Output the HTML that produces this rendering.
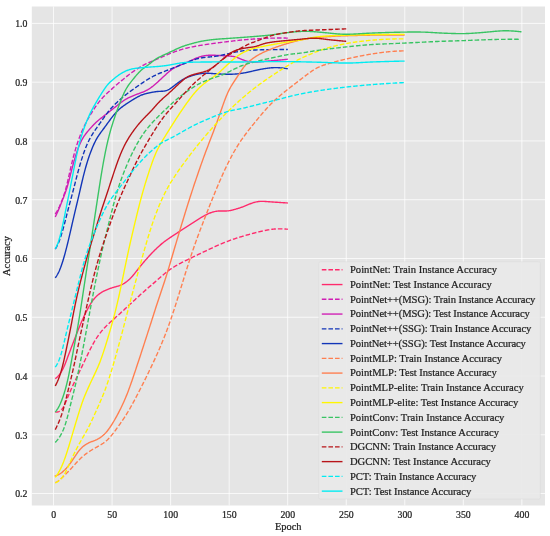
<!DOCTYPE html>
<html><head><meta charset="utf-8"><title>Accuracy vs Epoch</title>
<style>
html,body{margin:0;padding:0;background:#fff;}
body{width:550px;height:536px;overflow:hidden;}
svg{display:block;}
text{font-family:"Liberation Serif","DejaVu Serif",serif;fill:#222;stroke:#222;stroke-width:0.22px;}
.tick{font-size:9.8px;}
.lab{font-size:10.4px;}
.leg{font-size:10.6px;}
.grid line{stroke:#fff;stroke-width:0.9;stroke-opacity:0.85;}
.c path{fill:none;stroke-width:1.38;stroke-linejoin:round;}
</style></head><body>
<svg width="550" height="536" viewBox="0 0 550 536">
<rect x="0" y="0" width="550" height="536" fill="#fff"/>
<rect x="31.8" y="6.5" width="513.2" height="499.0" fill="#e5e5e5"/>
<g class="grid">
<line x1="53.55" y1="6.5" x2="53.55" y2="505.5"/>
<line x1="112.09" y1="6.5" x2="112.09" y2="505.5"/>
<line x1="170.62" y1="6.5" x2="170.62" y2="505.5"/>
<line x1="229.16" y1="6.5" x2="229.16" y2="505.5"/>
<line x1="287.70" y1="6.5" x2="287.70" y2="505.5"/>
<line x1="346.24" y1="6.5" x2="346.24" y2="505.5"/>
<line x1="404.77" y1="6.5" x2="404.77" y2="505.5"/>
<line x1="463.31" y1="6.5" x2="463.31" y2="505.5"/>
<line x1="521.85" y1="6.5" x2="521.85" y2="505.5"/>
<line x1="31.8" y1="493.56" x2="545.0" y2="493.56"/>
<line x1="31.8" y1="434.79" x2="545.0" y2="434.79"/>
<line x1="31.8" y1="376.02" x2="545.0" y2="376.02"/>
<line x1="31.8" y1="317.25" x2="545.0" y2="317.25"/>
<line x1="31.8" y1="258.48" x2="545.0" y2="258.48"/>
<line x1="31.8" y1="199.71" x2="545.0" y2="199.71"/>
<line x1="31.8" y1="140.94" x2="545.0" y2="140.94"/>
<line x1="31.8" y1="82.17" x2="545.0" y2="82.17"/>
<line x1="31.8" y1="23.40" x2="545.0" y2="23.40"/>
</g>
<g class="tick">
<text x="53.65" y="517.8" text-anchor="middle">0</text>
<text x="112.19" y="517.8" text-anchor="middle">50</text>
<text x="170.72" y="517.8" text-anchor="middle">100</text>
<text x="229.26" y="517.8" text-anchor="middle">150</text>
<text x="287.80" y="517.8" text-anchor="middle">200</text>
<text x="346.34" y="517.8" text-anchor="middle">250</text>
<text x="404.88" y="517.8" text-anchor="middle">300</text>
<text x="463.41" y="517.8" text-anchor="middle">350</text>
<text x="521.95" y="517.8" text-anchor="middle">400</text>
<text x="27.4" y="497.36" text-anchor="end">0.2</text>
<text x="27.4" y="438.59" text-anchor="end">0.3</text>
<text x="27.4" y="379.82" text-anchor="end">0.4</text>
<text x="27.4" y="321.05" text-anchor="end">0.5</text>
<text x="27.4" y="262.28" text-anchor="end">0.6</text>
<text x="27.4" y="203.51" text-anchor="end">0.7</text>
<text x="27.4" y="144.74" text-anchor="end">0.8</text>
<text x="27.4" y="85.97" text-anchor="end">0.9</text>
<text x="27.4" y="27.20" text-anchor="end">1.0</text>
</g>
<text class="lab" x="288.2" y="530" text-anchor="middle">Epoch</text>
<text class="lab" transform="translate(9.9,256) rotate(-90)" text-anchor="middle">Accuracy</text>
<g class="c">
<path d="M55.27 412.16 L55.85 412.14 L56.44 412.11 L57.02 412.05 L57.61 411.95 L58.19 411.81 L58.77 411.60 L59.36 411.33 L59.94 410.98 L60.53 410.53 L61.11 410.00 L61.70 409.36 L62.28 408.62 L62.86 407.77 L63.45 406.82 L64.03 405.77 L64.62 404.62 L65.20 403.34 L65.78 402.01 L66.37 400.64 L66.95 399.24 L67.54 397.83 L68.12 396.42 L68.71 395.02 L69.29 393.63 L69.87 392.25 L70.46 390.90 L71.04 389.56 L71.63 388.24 L72.21 386.94 L72.80 385.66 L73.38 384.40 L73.96 383.14 L74.55 381.91 L75.13 380.68 L75.72 379.46 L76.30 378.25 L76.89 377.04 L77.47 375.84 L78.05 374.63 L78.64 373.42 L79.22 372.22 L79.81 371.00 L80.39 369.79 L80.98 368.57 L81.56 367.35 L82.14 366.13 L82.73 364.91 L83.31 363.68 L83.90 362.46 L84.48 361.23 L85.07 360.00 L85.65 358.77 L86.23 357.54 L86.82 356.31 L87.40 355.09 L87.99 353.87 L88.57 352.67 L89.16 351.47 L89.74 350.29 L90.32 349.12 L90.91 347.97 L91.49 346.84 L92.08 345.73 L92.66 344.64 L93.24 343.58 L93.83 342.54 L94.41 341.53 L95.00 340.55 L95.58 339.59 L96.17 338.66 L96.75 337.75 L97.33 336.87 L97.92 336.02 L98.50 335.18 L99.09 334.38 L99.67 333.59 L100.26 332.83 L100.84 332.09 L101.42 331.37 L102.01 330.66 L102.59 329.98 L103.18 329.32 L103.76 328.67 L104.35 328.03 L104.93 327.41 L105.51 326.81 L106.10 326.21 L106.68 325.63 L107.27 325.06 L107.85 324.50 L108.44 323.94 L109.02 323.39 L109.60 322.85 L110.19 322.32 L110.77 321.78 L111.36 321.25 L111.94 320.73 L112.53 320.20 L113.11 319.68 L113.69 319.16 L114.28 318.64 L114.86 318.12 L115.45 317.60 L116.03 317.08 L116.61 316.56 L117.20 316.04 L117.78 315.52 L118.37 314.99 L118.95 314.47 L119.54 313.94 L120.12 313.41 L120.70 312.88 L121.29 312.35 L121.87 311.81 L122.46 311.28 L123.04 310.74 L123.63 310.20 L124.21 309.66 L124.79 309.12 L125.38 308.58 L125.96 308.04 L126.55 307.50 L127.13 306.96 L127.72 306.42 L128.30 305.87 L128.88 305.33 L129.47 304.79 L130.05 304.25 L130.64 303.70 L131.22 303.16 L131.81 302.62 L132.39 302.08 L132.97 301.54 L133.56 301.00 L134.14 300.46 L134.73 299.92 L135.31 299.38 L135.90 298.84 L136.48 298.31 L137.06 297.77 L137.65 297.23 L138.23 296.70 L138.82 296.16 L139.40 295.63 L139.98 295.10 L140.57 294.57 L141.15 294.04 L141.74 293.51 L142.32 292.99 L142.91 292.46 L143.49 291.94 L144.07 291.42 L144.66 290.90 L145.24 290.39 L145.83 289.88 L146.41 289.37 L147.00 288.86 L147.58 288.36 L148.16 287.85 L148.75 287.35 L149.33 286.85 L149.92 286.35 L150.50 285.86 L151.09 285.36 L151.67 284.86 L152.25 284.37 L152.84 283.87 L153.42 283.37 L154.01 282.87 L154.59 282.37 L155.18 281.86 L155.76 281.35 L156.34 280.84 L156.93 280.33 L157.51 279.82 L158.10 279.30 L158.68 278.78 L159.27 278.27 L159.85 277.75 L160.43 277.23 L161.02 276.71 L161.60 276.20 L162.19 275.69 L162.77 275.18 L163.35 274.68 L163.94 274.19 L164.52 273.70 L165.11 273.22 L165.69 272.74 L166.28 272.28 L166.86 271.82 L167.44 271.37 L168.03 270.94 L168.61 270.51 L169.20 270.08 L169.78 269.67 L170.37 269.26 L170.95 268.87 L171.53 268.48 L172.12 268.09 L172.70 267.72 L173.29 267.35 L173.87 266.99 L174.46 266.63 L175.04 266.28 L175.62 265.93 L176.21 265.59 L176.79 265.25 L177.38 264.92 L177.96 264.60 L178.55 264.27 L179.13 263.95 L179.71 263.64 L180.30 263.33 L180.88 263.02 L181.47 262.71 L182.05 262.41 L182.63 262.11 L183.22 261.81 L183.80 261.52 L184.39 261.22 L184.97 260.93 L185.56 260.64 L186.14 260.36 L186.72 260.07 L187.31 259.79 L187.89 259.50 L188.48 259.22 L189.06 258.94 L189.65 258.65 L190.23 258.37 L190.81 258.09 L191.40 257.81 L191.98 257.53 L192.57 257.25 L193.15 256.97 L193.74 256.69 L194.32 256.41 L194.90 256.13 L195.49 255.85 L196.07 255.57 L196.66 255.29 L197.24 255.01 L197.83 254.72 L198.41 254.44 L198.99 254.16 L199.58 253.88 L200.16 253.60 L200.75 253.32 L201.33 253.03 L201.92 252.75 L202.50 252.47 L203.08 252.19 L203.67 251.91 L204.25 251.63 L204.84 251.35 L205.42 251.07 L206.00 250.79 L206.59 250.51 L207.17 250.23 L207.76 249.96 L208.34 249.68 L208.93 249.40 L209.51 249.13 L210.09 248.86 L210.68 248.58 L211.26 248.31 L211.85 248.04 L212.43 247.77 L213.02 247.50 L213.60 247.23 L214.18 246.97 L214.77 246.70 L215.35 246.44 L215.94 246.17 L216.52 245.91 L217.11 245.65 L217.69 245.40 L218.27 245.14 L218.86 244.88 L219.44 244.63 L220.03 244.38 L220.61 244.13 L221.20 243.88 L221.78 243.64 L222.36 243.39 L222.95 243.15 L223.53 242.91 L224.12 242.67 L224.70 242.44 L225.29 242.21 L225.87 241.97 L226.45 241.74 L227.04 241.52 L227.62 241.29 L228.21 241.07 L228.79 240.85 L229.38 240.63 L229.96 240.42 L230.54 240.21 L231.13 240.00 L231.71 239.79 L232.30 239.58 L232.88 239.38 L233.46 239.18 L234.05 238.98 L234.63 238.78 L235.22 238.58 L235.80 238.39 L236.39 238.20 L236.97 238.01 L237.55 237.82 L238.14 237.64 L238.72 237.46 L239.31 237.27 L239.89 237.09 L240.48 236.92 L241.06 236.74 L241.64 236.56 L242.23 236.39 L242.81 236.22 L243.40 236.04 L243.98 235.87 L244.57 235.70 L245.15 235.53 L245.73 235.37 L246.32 235.20 L246.90 235.04 L247.49 234.87 L248.07 234.71 L248.66 234.54 L249.24 234.38 L249.82 234.22 L250.41 234.06 L250.99 233.90 L251.58 233.74 L252.16 233.58 L252.75 233.43 L253.33 233.27 L253.91 233.12 L254.50 232.96 L255.08 232.81 L255.67 232.66 L256.25 232.51 L256.83 232.36 L257.42 232.21 L258.00 232.07 L258.59 231.92 L259.17 231.78 L259.76 231.64 L260.34 231.50 L260.92 231.37 L261.51 231.23 L262.09 231.10 L262.68 230.97 L263.26 230.84 L263.85 230.71 L264.43 230.59 L265.01 230.47 L265.60 230.35 L266.18 230.24 L266.77 230.13 L267.35 230.02 L267.94 229.92 L268.52 229.82 L269.10 229.72 L269.69 229.63 L270.27 229.54 L270.86 229.45 L271.44 229.38 L272.03 229.30 L272.61 229.23 L273.19 229.17 L273.78 229.12 L274.36 229.06 L274.95 229.02 L275.53 228.98 L276.12 228.95 L276.70 228.91 L277.28 228.88 L277.87 228.85 L278.45 228.83 L279.04 228.82 L279.62 228.82 L280.20 228.82 L280.79 228.82 L281.37 228.83 L281.96 228.85 L282.54 228.87 L283.13 228.90 L283.71 228.93 L284.29 228.97 L284.88 229.01 L285.46 229.05 L286.05 229.11 L286.63 229.16 L287.22 229.22 L287.80 229.27" stroke="#ff2a6c" stroke-dasharray="4.6 2"/>
<path d="M55.27 378.84 L55.85 378.32 L56.44 377.78 L57.02 377.23 L57.61 376.65 L58.19 376.04 L58.77 375.38 L59.36 374.68 L59.94 373.92 L60.53 373.10 L61.11 372.21 L61.70 371.25 L62.28 370.20 L62.86 369.06 L63.45 367.84 L64.03 366.54 L64.62 365.16 L65.20 363.72 L65.78 362.23 L66.37 360.70 L66.95 359.16 L67.54 357.61 L68.12 356.06 L68.71 354.51 L69.29 352.96 L69.87 351.42 L70.46 349.89 L71.04 348.36 L71.63 346.84 L72.21 345.32 L72.80 343.80 L73.38 342.29 L73.96 340.77 L74.55 339.25 L75.13 337.74 L75.72 336.23 L76.30 334.73 L76.89 333.23 L77.47 331.74 L78.05 330.26 L78.64 328.80 L79.22 327.36 L79.81 325.94 L80.39 324.54 L80.98 323.17 L81.56 321.82 L82.14 320.49 L82.73 319.19 L83.31 317.91 L83.90 316.65 L84.48 315.41 L85.07 314.19 L85.65 313.00 L86.23 311.82 L86.82 310.66 L87.40 309.53 L87.99 308.41 L88.57 307.33 L89.16 306.28 L89.74 305.25 L90.32 304.27 L90.91 303.32 L91.49 302.41 L92.08 301.54 L92.66 300.72 L93.24 299.93 L93.83 299.20 L94.41 298.50 L95.00 297.84 L95.58 297.21 L96.17 296.62 L96.75 296.06 L97.33 295.53 L97.92 295.03 L98.50 294.55 L99.09 294.09 L99.67 293.65 L100.26 293.23 L100.84 292.84 L101.42 292.46 L102.01 292.10 L102.59 291.75 L103.18 291.43 L103.76 291.12 L104.35 290.82 L104.93 290.54 L105.51 290.27 L106.10 290.01 L106.68 289.76 L107.27 289.52 L107.85 289.29 L108.44 289.07 L109.02 288.85 L109.60 288.64 L110.19 288.43 L110.77 288.23 L111.36 288.04 L111.94 287.85 L112.53 287.67 L113.11 287.50 L113.69 287.33 L114.28 287.17 L114.86 287.00 L115.45 286.84 L116.03 286.68 L116.61 286.52 L117.20 286.35 L117.78 286.18 L118.37 286.00 L118.95 285.80 L119.54 285.60 L120.12 285.37 L120.70 285.14 L121.29 284.88 L121.87 284.61 L122.46 284.32 L123.04 284.01 L123.63 283.67 L124.21 283.32 L124.79 282.95 L125.38 282.56 L125.96 282.14 L126.55 281.71 L127.13 281.25 L127.72 280.77 L128.30 280.27 L128.88 279.75 L129.47 279.21 L130.05 278.64 L130.64 278.05 L131.22 277.44 L131.81 276.82 L132.39 276.17 L132.97 275.50 L133.56 274.81 L134.14 274.11 L134.73 273.40 L135.31 272.67 L135.90 271.94 L136.48 271.19 L137.06 270.45 L137.65 269.70 L138.23 268.95 L138.82 268.20 L139.40 267.46 L139.98 266.72 L140.57 265.99 L141.15 265.27 L141.74 264.55 L142.32 263.84 L142.91 263.15 L143.49 262.45 L144.07 261.77 L144.66 261.09 L145.24 260.42 L145.83 259.75 L146.41 259.08 L147.00 258.42 L147.58 257.77 L148.16 257.12 L148.75 256.47 L149.33 255.83 L149.92 255.20 L150.50 254.57 L151.09 253.94 L151.67 253.33 L152.25 252.72 L152.84 252.11 L153.42 251.51 L154.01 250.92 L154.59 250.34 L155.18 249.76 L155.76 249.19 L156.34 248.63 L156.93 248.07 L157.51 247.52 L158.10 246.98 L158.68 246.44 L159.27 245.92 L159.85 245.40 L160.43 244.89 L161.02 244.38 L161.60 243.89 L162.19 243.41 L162.77 242.93 L163.35 242.47 L163.94 242.01 L164.52 241.56 L165.11 241.12 L165.69 240.69 L166.28 240.27 L166.86 239.85 L167.44 239.44 L168.03 239.04 L168.61 238.64 L169.20 238.24 L169.78 237.84 L170.37 237.45 L170.95 237.06 L171.53 236.67 L172.12 236.29 L172.70 235.90 L173.29 235.51 L173.87 235.13 L174.46 234.74 L175.04 234.36 L175.62 233.98 L176.21 233.59 L176.79 233.21 L177.38 232.83 L177.96 232.44 L178.55 232.06 L179.13 231.68 L179.71 231.30 L180.30 230.92 L180.88 230.54 L181.47 230.16 L182.05 229.77 L182.63 229.39 L183.22 229.01 L183.80 228.63 L184.39 228.25 L184.97 227.87 L185.56 227.50 L186.14 227.12 L186.72 226.74 L187.31 226.36 L187.89 225.98 L188.48 225.60 L189.06 225.22 L189.65 224.85 L190.23 224.47 L190.81 224.09 L191.40 223.72 L191.98 223.34 L192.57 222.96 L193.15 222.59 L193.74 222.21 L194.32 221.83 L194.90 221.46 L195.49 221.08 L196.07 220.71 L196.66 220.34 L197.24 219.96 L197.83 219.59 L198.41 219.22 L198.99 218.86 L199.58 218.49 L200.16 218.13 L200.75 217.77 L201.33 217.42 L201.92 217.07 L202.50 216.73 L203.08 216.39 L203.67 216.07 L204.25 215.74 L204.84 215.43 L205.42 215.12 L206.00 214.83 L206.59 214.54 L207.17 214.26 L207.76 213.98 L208.34 213.72 L208.93 213.47 L209.51 213.23 L210.09 212.99 L210.68 212.77 L211.26 212.56 L211.85 212.36 L212.43 212.17 L213.02 212.00 L213.60 211.83 L214.18 211.68 L214.77 211.55 L215.35 211.43 L215.94 211.32 L216.52 211.23 L217.11 211.16 L217.69 211.10 L218.27 211.05 L218.86 211.01 L219.44 210.99 L220.03 210.97 L220.61 210.96 L221.20 210.96 L221.78 210.97 L222.36 210.98 L222.95 210.99 L223.53 210.99 L224.12 211.00 L224.70 211.00 L225.29 210.99 L225.87 210.98 L226.45 210.96 L227.04 210.93 L227.62 210.88 L228.21 210.82 L228.79 210.76 L229.38 210.67 L229.96 210.58 L230.54 210.47 L231.13 210.35 L231.71 210.22 L232.30 210.08 L232.88 209.94 L233.46 209.79 L234.05 209.63 L234.63 209.46 L235.22 209.30 L235.80 209.13 L236.39 208.95 L236.97 208.78 L237.55 208.60 L238.14 208.42 L238.72 208.23 L239.31 208.04 L239.89 207.85 L240.48 207.65 L241.06 207.45 L241.64 207.25 L242.23 207.04 L242.81 206.82 L243.40 206.60 L243.98 206.37 L244.57 206.14 L245.15 205.90 L245.73 205.66 L246.32 205.42 L246.90 205.18 L247.49 204.93 L248.07 204.69 L248.66 204.45 L249.24 204.21 L249.82 203.97 L250.41 203.74 L250.99 203.52 L251.58 203.30 L252.16 203.10 L252.75 202.90 L253.33 202.71 L253.91 202.53 L254.50 202.36 L255.08 202.20 L255.67 202.06 L256.25 201.93 L256.83 201.81 L257.42 201.71 L258.00 201.62 L258.59 201.54 L259.17 201.48 L259.76 201.43 L260.34 201.39 L260.92 201.37 L261.51 201.36 L262.09 201.36 L262.68 201.37 L263.26 201.38 L263.85 201.40 L264.43 201.43 L265.01 201.46 L265.60 201.50 L266.18 201.53 L266.77 201.57 L267.35 201.61 L267.94 201.66 L268.52 201.70 L269.10 201.74 L269.69 201.78 L270.27 201.82 L270.86 201.87 L271.44 201.91 L272.03 201.95 L272.61 201.99 L273.19 202.03 L273.78 202.07 L274.36 202.11 L274.95 202.15 L275.53 202.19 L276.12 202.23 L276.70 202.27 L277.28 202.31 L277.87 202.35 L278.45 202.39 L279.04 202.43 L279.62 202.47 L280.20 202.51 L280.79 202.55 L281.37 202.58 L281.96 202.62 L282.54 202.66 L283.13 202.70 L283.71 202.74 L284.29 202.78 L284.88 202.81 L285.46 202.85 L286.05 202.89 L286.63 202.93 L287.22 202.96 L287.80 203.00" stroke="#ff2a6c"/>
<path d="M55.27 214.11 L55.85 213.18 L56.44 212.23 L57.02 211.24 L57.61 210.20 L58.19 209.09 L58.77 207.92 L59.36 206.69 L59.94 205.39 L60.53 204.04 L61.11 202.63 L61.70 201.18 L62.28 199.67 L62.86 198.11 L63.45 196.49 L64.03 194.78 L64.62 192.98 L65.20 191.00 L65.78 188.88 L66.37 186.63 L66.95 184.27 L67.54 181.80 L68.12 179.26 L68.71 176.67 L69.29 174.07 L69.87 171.47 L70.46 168.91 L71.04 166.40 L71.63 163.94 L72.21 161.55 L72.80 159.23 L73.38 156.97 L73.96 154.78 L74.55 152.65 L75.13 150.60 L75.72 148.61 L76.30 146.70 L76.89 144.84 L77.47 143.05 L78.05 141.33 L78.64 139.66 L79.22 138.06 L79.81 136.51 L80.39 135.01 L80.98 133.57 L81.56 132.17 L82.14 130.82 L82.73 129.47 L83.31 128.17 L83.90 126.91 L84.48 125.69 L85.07 124.50 L85.65 123.34 L86.23 122.21 L86.82 121.11 L87.40 120.04 L87.99 118.98 L88.57 117.95 L89.16 116.94 L89.74 115.94 L90.32 114.95 L90.91 113.99 L91.49 113.03 L92.08 112.09 L92.66 111.16 L93.24 110.24 L93.83 109.34 L94.41 108.45 L95.00 107.57 L95.58 106.71 L96.17 105.87 L96.75 105.04 L97.33 104.23 L97.92 103.44 L98.50 102.66 L99.09 101.91 L99.67 101.17 L100.26 100.46 L100.84 99.76 L101.42 99.08 L102.01 98.42 L102.59 97.78 L103.18 97.15 L103.76 96.54 L104.35 95.94 L104.93 95.36 L105.51 94.78 L106.10 94.22 L106.68 93.66 L107.27 93.11 L107.85 92.57 L108.44 92.03 L109.02 91.50 L109.60 90.97 L110.19 90.44 L110.77 89.92 L111.36 89.40 L111.94 88.88 L112.53 88.37 L113.11 87.85 L113.69 87.34 L114.28 86.83 L114.86 86.33 L115.45 85.82 L116.03 85.32 L116.61 84.82 L117.20 84.32 L117.78 83.83 L118.37 83.33 L118.95 82.84 L119.54 82.35 L120.12 81.86 L120.70 81.37 L121.29 80.88 L121.87 80.40 L122.46 79.91 L123.04 79.43 L123.63 78.94 L124.21 78.46 L124.79 77.99 L125.38 77.51 L125.96 77.04 L126.55 76.57 L127.13 76.10 L127.72 75.64 L128.30 75.18 L128.88 74.73 L129.47 74.28 L130.05 73.84 L130.64 73.40 L131.22 72.97 L131.81 72.55 L132.39 72.13 L132.97 71.72 L133.56 71.32 L134.14 70.91 L134.73 70.52 L135.31 70.13 L135.90 69.74 L136.48 69.36 L137.06 68.98 L137.65 68.61 L138.23 68.24 L138.82 67.88 L139.40 67.52 L139.98 67.16 L140.57 66.81 L141.15 66.46 L141.74 66.12 L142.32 65.79 L142.91 65.46 L143.49 65.13 L144.07 64.81 L144.66 64.50 L145.24 64.20 L145.83 63.90 L146.41 63.61 L147.00 63.33 L147.58 63.05 L148.16 62.78 L148.75 62.52 L149.33 62.27 L149.92 62.02 L150.50 61.77 L151.09 61.53 L151.67 61.29 L152.25 61.06 L152.84 60.83 L153.42 60.59 L154.01 60.36 L154.59 60.13 L155.18 59.90 L155.76 59.67 L156.34 59.44 L156.93 59.20 L157.51 58.96 L158.10 58.72 L158.68 58.48 L159.27 58.24 L159.85 57.99 L160.43 57.74 L161.02 57.49 L161.60 57.23 L162.19 56.98 L162.77 56.72 L163.35 56.46 L163.94 56.21 L164.52 55.95 L165.11 55.69 L165.69 55.43 L166.28 55.18 L166.86 54.92 L167.44 54.67 L168.03 54.42 L168.61 54.18 L169.20 53.94 L169.78 53.69 L170.37 53.46 L170.95 53.22 L171.53 52.99 L172.12 52.76 L172.70 52.54 L173.29 52.32 L173.87 52.10 L174.46 51.88 L175.04 51.67 L175.62 51.46 L176.21 51.25 L176.79 51.05 L177.38 50.85 L177.96 50.65 L178.55 50.46 L179.13 50.27 L179.71 50.08 L180.30 49.90 L180.88 49.71 L181.47 49.54 L182.05 49.36 L182.63 49.19 L183.22 49.03 L183.80 48.86 L184.39 48.70 L184.97 48.55 L185.56 48.39 L186.14 48.24 L186.72 48.10 L187.31 47.96 L187.89 47.82 L188.48 47.68 L189.06 47.55 L189.65 47.42 L190.23 47.29 L190.81 47.17 L191.40 47.05 L191.98 46.93 L192.57 46.81 L193.15 46.70 L193.74 46.58 L194.32 46.47 L194.90 46.36 L195.49 46.26 L196.07 46.15 L196.66 46.05 L197.24 45.94 L197.83 45.84 L198.41 45.74 L198.99 45.64 L199.58 45.54 L200.16 45.44 L200.75 45.34 L201.33 45.25 L201.92 45.15 L202.50 45.06 L203.08 44.96 L203.67 44.87 L204.25 44.78 L204.84 44.69 L205.42 44.60 L206.00 44.51 L206.59 44.42 L207.17 44.33 L207.76 44.24 L208.34 44.16 L208.93 44.07 L209.51 43.99 L210.09 43.90 L210.68 43.82 L211.26 43.74 L211.85 43.66 L212.43 43.58 L213.02 43.49 L213.60 43.42 L214.18 43.34 L214.77 43.26 L215.35 43.18 L215.94 43.10 L216.52 43.02 L217.11 42.95 L217.69 42.87 L218.27 42.80 L218.86 42.72 L219.44 42.65 L220.03 42.57 L220.61 42.50 L221.20 42.42 L221.78 42.35 L222.36 42.27 L222.95 42.20 L223.53 42.13 L224.12 42.05 L224.70 41.98 L225.29 41.91 L225.87 41.84 L226.45 41.76 L227.04 41.69 L227.62 41.62 L228.21 41.55 L228.79 41.48 L229.38 41.41 L229.96 41.34 L230.54 41.27 L231.13 41.20 L231.71 41.13 L232.30 41.07 L232.88 41.00 L233.46 40.93 L234.05 40.86 L234.63 40.80 L235.22 40.73 L235.80 40.67 L236.39 40.60 L236.97 40.54 L237.55 40.48 L238.14 40.42 L238.72 40.35 L239.31 40.29 L239.89 40.23 L240.48 40.17 L241.06 40.12 L241.64 40.06 L242.23 40.00 L242.81 39.94 L243.40 39.89 L243.98 39.83 L244.57 39.78 L245.15 39.73 L245.73 39.67 L246.32 39.62 L246.90 39.57 L247.49 39.52 L248.07 39.47 L248.66 39.42 L249.24 39.38 L249.82 39.33 L250.41 39.28 L250.99 39.24 L251.58 39.19 L252.16 39.15 L252.75 39.11 L253.33 39.06 L253.91 39.02 L254.50 38.98 L255.08 38.94 L255.67 38.90 L256.25 38.86 L256.83 38.83 L257.42 38.79 L258.00 38.75 L258.59 38.72 L259.17 38.68 L259.76 38.65 L260.34 38.62 L260.92 38.58 L261.51 38.55 L262.09 38.52 L262.68 38.49 L263.26 38.46 L263.85 38.44 L264.43 38.41 L265.01 38.38 L265.60 38.36 L266.18 38.33 L266.77 38.31 L267.35 38.29 L267.94 38.26 L268.52 38.24 L269.10 38.22 L269.69 38.21 L270.27 38.19 L270.86 38.17 L271.44 38.16 L272.03 38.14 L272.61 38.13 L273.19 38.11 L273.78 38.10 L274.36 38.09 L274.95 38.08 L275.53 38.08 L276.12 38.07 L276.70 38.06 L277.28 38.05 L277.87 38.05 L278.45 38.04 L279.04 38.04 L279.62 38.04 L280.20 38.03 L280.79 38.03 L281.37 38.03 L281.96 38.03 L282.54 38.03 L283.13 38.04 L283.71 38.04 L284.29 38.05 L284.88 38.05 L285.46 38.06 L286.05 38.07 L286.63 38.07 L287.22 38.08 L287.80 38.09" stroke="#d01fb4" stroke-dasharray="4.6 2"/>
<path d="M55.27 216.99 L55.85 215.76 L56.44 214.51 L57.02 213.25 L57.61 211.96 L58.19 210.63 L58.77 209.28 L59.36 207.89 L59.94 206.47 L60.53 205.02 L61.11 203.56 L61.70 202.09 L62.28 200.61 L62.86 199.12 L63.45 197.63 L64.03 196.11 L64.62 194.57 L65.20 192.98 L65.78 191.31 L66.37 189.55 L66.95 187.70 L67.54 185.73 L68.12 183.66 L68.71 181.51 L69.29 179.28 L69.87 177.00 L70.46 174.70 L71.04 172.41 L71.63 170.13 L72.21 167.88 L72.80 165.68 L73.38 163.53 L73.96 161.44 L74.55 159.41 L75.13 157.44 L75.72 155.53 L76.30 153.69 L76.89 151.91 L77.47 150.21 L78.05 148.58 L78.64 147.03 L79.22 145.56 L79.81 144.16 L80.39 142.85 L80.98 141.61 L81.56 140.46 L82.14 139.37 L82.73 138.34 L83.31 137.37 L83.90 136.46 L84.48 135.60 L85.07 134.78 L85.65 133.99 L86.23 133.24 L86.82 132.51 L87.40 131.79 L87.99 131.09 L88.57 130.40 L89.16 129.72 L89.74 129.05 L90.32 128.39 L90.91 127.73 L91.49 127.09 L92.08 126.45 L92.66 125.82 L93.24 125.20 L93.83 124.60 L94.41 124.01 L95.00 123.43 L95.58 122.87 L96.17 122.32 L96.75 121.79 L97.33 121.27 L97.92 120.76 L98.50 120.27 L99.09 119.78 L99.67 119.30 L100.26 118.83 L100.84 118.36 L101.42 117.90 L102.01 117.43 L102.59 116.97 L103.18 116.51 L103.76 116.06 L104.35 115.60 L104.93 115.14 L105.51 114.69 L106.10 114.23 L106.68 113.77 L107.27 113.32 L107.85 112.86 L108.44 112.40 L109.02 111.94 L109.60 111.49 L110.19 111.03 L110.77 110.57 L111.36 110.11 L111.94 109.65 L112.53 109.19 L113.11 108.73 L113.69 108.27 L114.28 107.80 L114.86 107.34 L115.45 106.88 L116.03 106.41 L116.61 105.95 L117.20 105.49 L117.78 105.02 L118.37 104.56 L118.95 104.10 L119.54 103.65 L120.12 103.19 L120.70 102.75 L121.29 102.31 L121.87 101.88 L122.46 101.46 L123.04 101.04 L123.63 100.65 L124.21 100.26 L124.79 99.89 L125.38 99.53 L125.96 99.19 L126.55 98.85 L127.13 98.53 L127.72 98.23 L128.30 97.93 L128.88 97.64 L129.47 97.36 L130.05 97.09 L130.64 96.83 L131.22 96.57 L131.81 96.31 L132.39 96.07 L132.97 95.82 L133.56 95.58 L134.14 95.35 L134.73 95.11 L135.31 94.89 L135.90 94.66 L136.48 94.44 L137.06 94.22 L137.65 94.00 L138.23 93.79 L138.82 93.57 L139.40 93.36 L139.98 93.14 L140.57 92.93 L141.15 92.71 L141.74 92.48 L142.32 92.26 L142.91 92.02 L143.49 91.78 L144.07 91.53 L144.66 91.27 L145.24 91.00 L145.83 90.72 L146.41 90.42 L147.00 90.11 L147.58 89.79 L148.16 89.45 L148.75 89.10 L149.33 88.73 L149.92 88.35 L150.50 87.95 L151.09 87.53 L151.67 87.10 L152.25 86.65 L152.84 86.20 L153.42 85.73 L154.01 85.24 L154.59 84.75 L155.18 84.25 L155.76 83.74 L156.34 83.23 L156.93 82.71 L157.51 82.18 L158.10 81.65 L158.68 81.12 L159.27 80.58 L159.85 80.04 L160.43 79.50 L161.02 78.96 L161.60 78.42 L162.19 77.87 L162.77 77.33 L163.35 76.79 L163.94 76.25 L164.52 75.71 L165.11 75.17 L165.69 74.64 L166.28 74.10 L166.86 73.58 L167.44 73.06 L168.03 72.54 L168.61 72.04 L169.20 71.54 L169.78 71.06 L170.37 70.59 L170.95 70.13 L171.53 69.70 L172.12 69.27 L172.70 68.87 L173.29 68.49 L173.87 68.12 L174.46 67.78 L175.04 67.45 L175.62 67.14 L176.21 66.84 L176.79 66.55 L177.38 66.28 L177.96 66.01 L178.55 65.75 L179.13 65.50 L179.71 65.25 L180.30 65.01 L180.88 64.77 L181.47 64.53 L182.05 64.29 L182.63 64.06 L183.22 63.82 L183.80 63.58 L184.39 63.34 L184.97 63.10 L185.56 62.86 L186.14 62.61 L186.72 62.36 L187.31 62.11 L187.89 61.86 L188.48 61.60 L189.06 61.35 L189.65 61.09 L190.23 60.83 L190.81 60.56 L191.40 60.30 L191.98 60.04 L192.57 59.78 L193.15 59.52 L193.74 59.26 L194.32 59.00 L194.90 58.75 L195.49 58.50 L196.07 58.25 L196.66 58.01 L197.24 57.78 L197.83 57.55 L198.41 57.33 L198.99 57.12 L199.58 56.92 L200.16 56.73 L200.75 56.56 L201.33 56.39 L201.92 56.24 L202.50 56.10 L203.08 55.97 L203.67 55.85 L204.25 55.75 L204.84 55.66 L205.42 55.58 L206.00 55.51 L206.59 55.45 L207.17 55.39 L207.76 55.35 L208.34 55.31 L208.93 55.28 L209.51 55.26 L210.09 55.25 L210.68 55.24 L211.26 55.23 L211.85 55.23 L212.43 55.23 L213.02 55.24 L213.60 55.26 L214.18 55.27 L214.77 55.29 L215.35 55.31 L215.94 55.34 L216.52 55.36 L217.11 55.39 L217.69 55.42 L218.27 55.45 L218.86 55.49 L219.44 55.52 L220.03 55.55 L220.61 55.58 L221.20 55.62 L221.78 55.65 L222.36 55.68 L222.95 55.71 L223.53 55.75 L224.12 55.78 L224.70 55.81 L225.29 55.84 L225.87 55.88 L226.45 55.91 L227.04 55.94 L227.62 55.98 L228.21 56.01 L228.79 56.05 L229.38 56.09 L229.96 56.13 L230.54 56.17 L231.13 56.23 L231.71 56.29 L232.30 56.36 L232.88 56.44 L233.46 56.53 L234.05 56.64 L234.63 56.77 L235.22 56.91 L235.80 57.07 L236.39 57.25 L236.97 57.44 L237.55 57.64 L238.14 57.86 L238.72 58.09 L239.31 58.33 L239.89 58.57 L240.48 58.81 L241.06 59.05 L241.64 59.29 L242.23 59.53 L242.81 59.76 L243.40 59.99 L243.98 60.20 L244.57 60.42 L245.15 60.62 L245.73 60.81 L246.32 61.00 L246.90 61.17 L247.49 61.33 L248.07 61.47 L248.66 61.60 L249.24 61.72 L249.82 61.82 L250.41 61.90 L250.99 61.96 L251.58 62.02 L252.16 62.05 L252.75 62.08 L253.33 62.09 L253.91 62.10 L254.50 62.09 L255.08 62.08 L255.67 62.06 L256.25 62.04 L256.83 62.01 L257.42 61.97 L258.00 61.94 L258.59 61.90 L259.17 61.86 L259.76 61.81 L260.34 61.77 L260.92 61.72 L261.51 61.67 L262.09 61.62 L262.68 61.57 L263.26 61.52 L263.85 61.47 L264.43 61.41 L265.01 61.36 L265.60 61.31 L266.18 61.26 L266.77 61.21 L267.35 61.15 L267.94 61.10 L268.52 61.05 L269.10 61.00 L269.69 60.95 L270.27 60.90 L270.86 60.84 L271.44 60.79 L272.03 60.74 L272.61 60.69 L273.19 60.64 L273.78 60.59 L274.36 60.54 L274.95 60.48 L275.53 60.43 L276.12 60.38 L276.70 60.33 L277.28 60.27 L277.87 60.22 L278.45 60.17 L279.04 60.11 L279.62 60.06 L280.20 60.01 L280.79 59.95 L281.37 59.90 L281.96 59.84 L282.54 59.78 L283.13 59.73 L283.71 59.67 L284.29 59.61 L284.88 59.55 L285.46 59.49 L286.05 59.43 L286.63 59.37 L287.22 59.31 L287.80 59.25" stroke="#d01fb4"/>
<path d="M55.27 249.08 L55.85 248.11 L56.44 247.11 L57.02 246.04 L57.61 244.87 L58.19 243.59 L58.77 242.19 L59.36 240.67 L59.94 239.05 L60.53 237.33 L61.11 235.53 L61.70 233.66 L62.28 231.71 L62.86 229.69 L63.45 227.61 L64.03 225.46 L64.62 223.25 L65.20 220.96 L65.78 218.66 L66.37 216.34 L66.95 214.02 L67.54 211.73 L68.12 209.46 L68.71 207.22 L69.29 205.01 L69.87 202.82 L70.46 200.66 L71.04 198.51 L71.63 196.35 L72.21 194.18 L72.80 191.98 L73.38 189.76 L73.96 187.52 L74.55 185.25 L75.13 182.97 L75.72 180.68 L76.30 178.41 L76.89 176.16 L77.47 173.93 L78.05 171.75 L78.64 169.61 L79.22 167.51 L79.81 165.47 L80.39 163.47 L80.98 161.54 L81.56 159.66 L82.14 157.84 L82.73 156.02 L83.31 154.27 L83.90 152.57 L84.48 150.94 L85.07 149.37 L85.65 147.86 L86.23 146.41 L86.82 145.02 L87.40 143.69 L87.99 142.41 L88.57 141.19 L89.16 140.01 L89.74 138.89 L90.32 137.81 L90.91 136.76 L91.49 135.76 L92.08 134.79 L92.66 133.84 L93.24 132.93 L93.83 132.03 L94.41 131.15 L95.00 130.29 L95.58 129.45 L96.17 128.61 L96.75 127.78 L97.33 126.95 L97.92 126.13 L98.50 125.31 L99.09 124.48 L99.67 123.66 L100.26 122.83 L100.84 122.01 L101.42 121.18 L102.01 120.34 L102.59 119.51 L103.18 118.68 L103.76 117.86 L104.35 117.03 L104.93 116.22 L105.51 115.41 L106.10 114.61 L106.68 113.82 L107.27 113.05 L107.85 112.29 L108.44 111.55 L109.02 110.82 L109.60 110.11 L110.19 109.42 L110.77 108.74 L111.36 108.07 L111.94 107.43 L112.53 106.79 L113.11 106.18 L113.69 105.57 L114.28 104.97 L114.86 104.39 L115.45 103.82 L116.03 103.25 L116.61 102.70 L117.20 102.15 L117.78 101.61 L118.37 101.07 L118.95 100.54 L119.54 100.02 L120.12 99.51 L120.70 99.00 L121.29 98.49 L121.87 97.99 L122.46 97.50 L123.04 97.01 L123.63 96.53 L124.21 96.06 L124.79 95.58 L125.38 95.12 L125.96 94.66 L126.55 94.20 L127.13 93.75 L127.72 93.31 L128.30 92.86 L128.88 92.43 L129.47 91.99 L130.05 91.56 L130.64 91.13 L131.22 90.71 L131.81 90.28 L132.39 89.86 L132.97 89.44 L133.56 89.03 L134.14 88.61 L134.73 88.20 L135.31 87.78 L135.90 87.37 L136.48 86.96 L137.06 86.55 L137.65 86.15 L138.23 85.74 L138.82 85.34 L139.40 84.93 L139.98 84.53 L140.57 84.13 L141.15 83.73 L141.74 83.34 L142.32 82.94 L142.91 82.55 L143.49 82.16 L144.07 81.77 L144.66 81.39 L145.24 81.01 L145.83 80.63 L146.41 80.26 L147.00 79.89 L147.58 79.53 L148.16 79.17 L148.75 78.81 L149.33 78.47 L149.92 78.12 L150.50 77.79 L151.09 77.46 L151.67 77.13 L152.25 76.82 L152.84 76.51 L153.42 76.20 L154.01 75.90 L154.59 75.61 L155.18 75.33 L155.76 75.05 L156.34 74.78 L156.93 74.51 L157.51 74.25 L158.10 73.99 L158.68 73.74 L159.27 73.49 L159.85 73.24 L160.43 73.00 L161.02 72.76 L161.60 72.53 L162.19 72.29 L162.77 72.06 L163.35 71.83 L163.94 71.60 L164.52 71.37 L165.11 71.14 L165.69 70.91 L166.28 70.68 L166.86 70.45 L167.44 70.23 L168.03 70.00 L168.61 69.77 L169.20 69.54 L169.78 69.31 L170.37 69.09 L170.95 68.86 L171.53 68.63 L172.12 68.40 L172.70 68.17 L173.29 67.93 L173.87 67.70 L174.46 67.47 L175.04 67.24 L175.62 67.01 L176.21 66.78 L176.79 66.54 L177.38 66.31 L177.96 66.08 L178.55 65.84 L179.13 65.61 L179.71 65.38 L180.30 65.14 L180.88 64.91 L181.47 64.68 L182.05 64.44 L182.63 64.21 L183.22 63.97 L183.80 63.74 L184.39 63.50 L184.97 63.27 L185.56 63.03 L186.14 62.80 L186.72 62.56 L187.31 62.33 L187.89 62.09 L188.48 61.86 L189.06 61.63 L189.65 61.40 L190.23 61.17 L190.81 60.94 L191.40 60.72 L191.98 60.50 L192.57 60.29 L193.15 60.08 L193.74 59.87 L194.32 59.67 L194.90 59.48 L195.49 59.30 L196.07 59.12 L196.66 58.95 L197.24 58.79 L197.83 58.63 L198.41 58.49 L198.99 58.35 L199.58 58.22 L200.16 58.10 L200.75 57.99 L201.33 57.89 L201.92 57.79 L202.50 57.70 L203.08 57.62 L203.67 57.54 L204.25 57.46 L204.84 57.39 L205.42 57.33 L206.00 57.27 L206.59 57.21 L207.17 57.15 L207.76 57.10 L208.34 57.05 L208.93 57.00 L209.51 56.95 L210.09 56.89 L210.68 56.84 L211.26 56.78 L211.85 56.73 L212.43 56.67 L213.02 56.60 L213.60 56.54 L214.18 56.47 L214.77 56.39 L215.35 56.31 L215.94 56.23 L216.52 56.14 L217.11 56.05 L217.69 55.95 L218.27 55.85 L218.86 55.74 L219.44 55.63 L220.03 55.51 L220.61 55.40 L221.20 55.28 L221.78 55.15 L222.36 55.03 L222.95 54.90 L223.53 54.77 L224.12 54.64 L224.70 54.51 L225.29 54.37 L225.87 54.24 L226.45 54.11 L227.04 53.97 L227.62 53.84 L228.21 53.70 L228.79 53.57 L229.38 53.44 L229.96 53.30 L230.54 53.17 L231.13 53.04 L231.71 52.91 L232.30 52.78 L232.88 52.66 L233.46 52.53 L234.05 52.41 L234.63 52.28 L235.22 52.16 L235.80 52.04 L236.39 51.92 L236.97 51.81 L237.55 51.70 L238.14 51.59 L238.72 51.48 L239.31 51.38 L239.89 51.28 L240.48 51.18 L241.06 51.09 L241.64 51.00 L242.23 50.91 L242.81 50.83 L243.40 50.75 L243.98 50.68 L244.57 50.61 L245.15 50.55 L245.73 50.49 L246.32 50.44 L246.90 50.39 L247.49 50.34 L248.07 50.30 L248.66 50.26 L249.24 50.22 L249.82 50.19 L250.41 50.16 L250.99 50.13 L251.58 50.10 L252.16 50.08 L252.75 50.05 L253.33 50.03 L253.91 50.01 L254.50 49.99 L255.08 49.97 L255.67 49.96 L256.25 49.94 L256.83 49.92 L257.42 49.90 L258.00 49.89 L258.59 49.87 L259.17 49.86 L259.76 49.84 L260.34 49.83 L260.92 49.81 L261.51 49.80 L262.09 49.78 L262.68 49.77 L263.26 49.76 L263.85 49.74 L264.43 49.73 L265.01 49.72 L265.60 49.71 L266.18 49.70 L266.77 49.69 L267.35 49.68 L267.94 49.67 L268.52 49.66 L269.10 49.65 L269.69 49.64 L270.27 49.63 L270.86 49.63 L271.44 49.62 L272.03 49.61 L272.61 49.61 L273.19 49.60 L273.78 49.59 L274.36 49.59 L274.95 49.58 L275.53 49.58 L276.12 49.58 L276.70 49.57 L277.28 49.57 L277.87 49.56 L278.45 49.56 L279.04 49.56 L279.62 49.55 L280.20 49.55 L280.79 49.55 L281.37 49.55 L281.96 49.55 L282.54 49.54 L283.13 49.54 L283.71 49.54 L284.29 49.54 L284.88 49.54 L285.46 49.54 L286.05 49.55 L286.63 49.55 L287.22 49.55 L287.80 49.55" stroke="#1235b8" stroke-dasharray="4.6 2"/>
<path d="M55.27 277.87 L55.85 277.03 L56.44 276.17 L57.02 275.25 L57.61 274.26 L58.19 273.18 L58.77 272.00 L59.36 270.72 L59.94 269.34 L60.53 267.85 L61.11 266.26 L61.70 264.57 L62.28 262.80 L62.86 260.94 L63.45 259.01 L64.03 257.01 L64.62 254.95 L65.20 252.81 L65.78 250.62 L66.37 248.37 L66.95 246.07 L67.54 243.72 L68.12 241.33 L68.71 238.89 L69.29 236.42 L69.87 233.91 L70.46 231.38 L71.04 228.83 L71.63 226.27 L72.21 223.72 L72.80 221.18 L73.38 218.65 L73.96 216.14 L74.55 213.65 L75.13 211.17 L75.72 208.71 L76.30 206.24 L76.89 203.78 L77.47 201.31 L78.05 198.82 L78.64 196.33 L79.22 193.81 L79.81 191.29 L80.39 188.77 L80.98 186.25 L81.56 183.75 L82.14 181.28 L82.73 178.84 L83.31 176.44 L83.90 174.11 L84.48 171.84 L85.07 169.64 L85.65 167.51 L86.23 165.47 L86.82 163.50 L87.40 161.60 L87.99 159.76 L88.57 157.99 L89.16 156.28 L89.74 154.62 L90.32 153.01 L90.91 151.45 L91.49 149.93 L92.08 148.47 L92.66 147.06 L93.24 145.70 L93.83 144.39 L94.41 143.13 L95.00 141.94 L95.58 140.79 L96.17 139.70 L96.75 138.66 L97.33 137.66 L97.92 136.71 L98.50 135.80 L99.09 134.92 L99.67 134.07 L100.26 133.24 L100.84 132.43 L101.42 131.64 L102.01 130.85 L102.59 130.06 L103.18 129.28 L103.76 128.49 L104.35 127.71 L104.93 126.91 L105.51 126.12 L106.10 125.32 L106.68 124.52 L107.27 123.71 L107.85 122.91 L108.44 122.11 L109.02 121.32 L109.60 120.52 L110.19 119.74 L110.77 118.96 L111.36 118.19 L111.94 117.43 L112.53 116.68 L113.11 115.94 L113.69 115.22 L114.28 114.52 L114.86 113.83 L115.45 113.16 L116.03 112.51 L116.61 111.88 L117.20 111.27 L117.78 110.68 L118.37 110.12 L118.95 109.57 L119.54 109.04 L120.12 108.53 L120.70 108.04 L121.29 107.56 L121.87 107.10 L122.46 106.65 L123.04 106.22 L123.63 105.79 L124.21 105.37 L124.79 104.97 L125.38 104.56 L125.96 104.17 L126.55 103.78 L127.13 103.39 L127.72 103.00 L128.30 102.62 L128.88 102.25 L129.47 101.87 L130.05 101.50 L130.64 101.12 L131.22 100.76 L131.81 100.39 L132.39 100.03 L132.97 99.66 L133.56 99.31 L134.14 98.95 L134.73 98.60 L135.31 98.26 L135.90 97.91 L136.48 97.58 L137.06 97.25 L137.65 96.93 L138.23 96.62 L138.82 96.32 L139.40 96.03 L139.98 95.75 L140.57 95.48 L141.15 95.23 L141.74 94.99 L142.32 94.76 L142.91 94.55 L143.49 94.35 L144.07 94.16 L144.66 93.98 L145.24 93.82 L145.83 93.66 L146.41 93.51 L147.00 93.37 L147.58 93.23 L148.16 93.10 L148.75 92.97 L149.33 92.85 L149.92 92.73 L150.50 92.61 L151.09 92.50 L151.67 92.38 L152.25 92.27 L152.84 92.17 L153.42 92.06 L154.01 91.97 L154.59 91.87 L155.18 91.78 L155.76 91.70 L156.34 91.62 L156.93 91.55 L157.51 91.49 L158.10 91.44 L158.68 91.40 L159.27 91.37 L159.85 91.34 L160.43 91.32 L161.02 91.29 L161.60 91.27 L162.19 91.24 L162.77 91.20 L163.35 91.15 L163.94 91.09 L164.52 91.00 L165.11 90.89 L165.69 90.75 L166.28 90.58 L166.86 90.38 L167.44 90.15 L168.03 89.89 L168.61 89.59 L169.20 89.27 L169.78 88.92 L170.37 88.55 L170.95 88.15 L171.53 87.74 L172.12 87.31 L172.70 86.87 L173.29 86.42 L173.87 85.97 L174.46 85.51 L175.04 85.05 L175.62 84.59 L176.21 84.14 L176.79 83.68 L177.38 83.23 L177.96 82.79 L178.55 82.36 L179.13 81.94 L179.71 81.53 L180.30 81.13 L180.88 80.74 L181.47 80.37 L182.05 80.01 L182.63 79.67 L183.22 79.34 L183.80 79.03 L184.39 78.72 L184.97 78.43 L185.56 78.16 L186.14 77.89 L186.72 77.63 L187.31 77.38 L187.89 77.15 L188.48 76.92 L189.06 76.69 L189.65 76.48 L190.23 76.27 L190.81 76.07 L191.40 75.88 L191.98 75.69 L192.57 75.51 L193.15 75.34 L193.74 75.17 L194.32 75.01 L194.90 74.85 L195.49 74.70 L196.07 74.56 L196.66 74.42 L197.24 74.29 L197.83 74.16 L198.41 74.03 L198.99 73.92 L199.58 73.81 L200.16 73.71 L200.75 73.61 L201.33 73.52 L201.92 73.45 L202.50 73.38 L203.08 73.32 L203.67 73.28 L204.25 73.24 L204.84 73.21 L205.42 73.20 L206.00 73.19 L206.59 73.20 L207.17 73.21 L207.76 73.23 L208.34 73.26 L208.93 73.29 L209.51 73.32 L210.09 73.37 L210.68 73.41 L211.26 73.45 L211.85 73.50 L212.43 73.54 L213.02 73.59 L213.60 73.63 L214.18 73.68 L214.77 73.72 L215.35 73.76 L215.94 73.80 L216.52 73.83 L217.11 73.87 L217.69 73.90 L218.27 73.93 L218.86 73.96 L219.44 73.99 L220.03 74.02 L220.61 74.04 L221.20 74.07 L221.78 74.09 L222.36 74.11 L222.95 74.14 L223.53 74.16 L224.12 74.18 L224.70 74.19 L225.29 74.21 L225.87 74.22 L226.45 74.24 L227.04 74.25 L227.62 74.25 L228.21 74.26 L228.79 74.26 L229.38 74.26 L229.96 74.26 L230.54 74.25 L231.13 74.24 L231.71 74.23 L232.30 74.21 L232.88 74.18 L233.46 74.16 L234.05 74.12 L234.63 74.09 L235.22 74.05 L235.80 74.00 L236.39 73.95 L236.97 73.89 L237.55 73.83 L238.14 73.77 L238.72 73.70 L239.31 73.63 L239.89 73.55 L240.48 73.47 L241.06 73.39 L241.64 73.30 L242.23 73.21 L242.81 73.11 L243.40 73.02 L243.98 72.92 L244.57 72.81 L245.15 72.70 L245.73 72.59 L246.32 72.48 L246.90 72.36 L247.49 72.24 L248.07 72.12 L248.66 71.99 L249.24 71.86 L249.82 71.73 L250.41 71.60 L250.99 71.47 L251.58 71.33 L252.16 71.19 L252.75 71.06 L253.33 70.92 L253.91 70.78 L254.50 70.65 L255.08 70.51 L255.67 70.38 L256.25 70.25 L256.83 70.12 L257.42 69.99 L258.00 69.87 L258.59 69.75 L259.17 69.63 L259.76 69.51 L260.34 69.40 L260.92 69.29 L261.51 69.18 L262.09 69.07 L262.68 68.97 L263.26 68.87 L263.85 68.77 L264.43 68.68 L265.01 68.58 L265.60 68.49 L266.18 68.41 L266.77 68.33 L267.35 68.25 L267.94 68.17 L268.52 68.10 L269.10 68.03 L269.69 67.97 L270.27 67.91 L270.86 67.85 L271.44 67.80 L272.03 67.76 L272.61 67.72 L273.19 67.69 L273.78 67.67 L274.36 67.65 L274.95 67.64 L275.53 67.64 L276.12 67.64 L276.70 67.65 L277.28 67.66 L277.87 67.68 L278.45 67.71 L279.04 67.74 L279.62 67.78 L280.20 67.82 L280.79 67.87 L281.37 67.92 L281.96 67.98 L282.54 68.05 L283.13 68.11 L283.71 68.19 L284.29 68.26 L284.88 68.34 L285.46 68.42 L286.05 68.51 L286.63 68.59 L287.22 68.68 L287.80 68.77" stroke="#1235b8"/>
<path d="M55.27 482.69 L55.85 482.38 L56.44 482.07 L57.02 481.74 L57.61 481.38 L58.19 480.99 L58.77 480.57 L59.36 480.12 L59.94 479.64 L60.53 479.13 L61.11 478.60 L61.70 478.05 L62.28 477.50 L62.86 476.93 L63.45 476.36 L64.03 475.78 L64.62 475.20 L65.20 474.62 L65.78 474.03 L66.37 473.45 L66.95 472.87 L67.54 472.28 L68.12 471.69 L68.71 471.10 L69.29 470.50 L69.87 469.89 L70.46 469.28 L71.04 468.66 L71.63 468.04 L72.21 467.40 L72.80 466.75 L73.38 466.10 L73.96 465.44 L74.55 464.78 L75.13 464.12 L75.72 463.47 L76.30 462.82 L76.89 462.18 L77.47 461.55 L78.05 460.93 L78.64 460.33 L79.22 459.74 L79.81 459.16 L80.39 458.60 L80.98 458.05 L81.56 457.52 L82.14 457.00 L82.73 456.48 L83.31 455.97 L83.90 455.48 L84.48 455.00 L85.07 454.54 L85.65 454.09 L86.23 453.65 L86.82 453.22 L87.40 452.80 L87.99 452.39 L88.57 451.99 L89.16 451.61 L89.74 451.22 L90.32 450.85 L90.91 450.49 L91.49 450.13 L92.08 449.78 L92.66 449.43 L93.24 449.09 L93.83 448.75 L94.41 448.42 L95.00 448.09 L95.58 447.76 L96.17 447.44 L96.75 447.11 L97.33 446.79 L97.92 446.46 L98.50 446.14 L99.09 445.81 L99.67 445.47 L100.26 445.13 L100.84 444.78 L101.42 444.42 L102.01 444.04 L102.59 443.66 L103.18 443.26 L103.76 442.84 L104.35 442.41 L104.93 441.96 L105.51 441.49 L106.10 440.99 L106.68 440.48 L107.27 439.94 L107.85 439.38 L108.44 438.80 L109.02 438.19 L109.60 437.57 L110.19 436.92 L110.77 436.25 L111.36 435.56 L111.94 434.85 L112.53 434.12 L113.11 433.38 L113.69 432.62 L114.28 431.86 L114.86 431.08 L115.45 430.29 L116.03 429.49 L116.61 428.69 L117.20 427.88 L117.78 427.07 L118.37 426.25 L118.95 425.43 L119.54 424.60 L120.12 423.78 L120.70 422.94 L121.29 422.11 L121.87 421.26 L122.46 420.41 L123.04 419.55 L123.63 418.68 L124.21 417.80 L124.79 416.91 L125.38 416.00 L125.96 415.09 L126.55 414.15 L127.13 413.21 L127.72 412.25 L128.30 411.27 L128.88 410.28 L129.47 409.28 L130.05 408.26 L130.64 407.23 L131.22 406.19 L131.81 405.14 L132.39 404.08 L132.97 403.01 L133.56 401.92 L134.14 400.83 L134.73 399.74 L135.31 398.63 L135.90 397.52 L136.48 396.41 L137.06 395.28 L137.65 394.16 L138.23 393.02 L138.82 391.89 L139.40 390.75 L139.98 389.60 L140.57 388.45 L141.15 387.30 L141.74 386.14 L142.32 384.98 L142.91 383.82 L143.49 382.65 L144.07 381.48 L144.66 380.31 L145.24 379.13 L145.83 377.95 L146.41 376.76 L147.00 375.57 L147.58 374.38 L148.16 373.18 L148.75 371.98 L149.33 370.77 L149.92 369.56 L150.50 368.34 L151.09 367.11 L151.67 365.88 L152.25 364.65 L152.84 363.40 L153.42 362.15 L154.01 360.90 L154.59 359.63 L155.18 358.36 L155.76 357.07 L156.34 355.78 L156.93 354.48 L157.51 353.17 L158.10 351.85 L158.68 350.52 L159.27 349.18 L159.85 347.82 L160.43 346.45 L161.02 345.07 L161.60 343.68 L162.19 342.27 L162.77 340.85 L163.35 339.41 L163.94 337.96 L164.52 336.49 L165.11 335.00 L165.69 333.49 L166.28 331.96 L166.86 330.42 L167.44 328.85 L168.03 327.27 L168.61 325.66 L169.20 324.03 L169.78 322.39 L170.37 320.72 L170.95 319.03 L171.53 317.32 L172.12 315.60 L172.70 313.85 L173.29 312.09 L173.87 310.31 L174.46 308.51 L175.04 306.70 L175.62 304.87 L176.21 303.03 L176.79 301.18 L177.38 299.32 L177.96 297.45 L178.55 295.57 L179.13 293.68 L179.71 291.79 L180.30 289.89 L180.88 287.99 L181.47 286.09 L182.05 284.19 L182.63 282.29 L183.22 280.39 L183.80 278.49 L184.39 276.60 L184.97 274.71 L185.56 272.83 L186.14 270.95 L186.72 269.09 L187.31 267.24 L187.89 265.39 L188.48 263.56 L189.06 261.75 L189.65 259.94 L190.23 258.16 L190.81 256.38 L191.40 254.63 L191.98 252.88 L192.57 251.16 L193.15 249.45 L193.74 247.76 L194.32 246.08 L194.90 244.42 L195.49 242.78 L196.07 241.14 L196.66 239.53 L197.24 237.92 L197.83 236.33 L198.41 234.75 L198.99 233.18 L199.58 231.62 L200.16 230.06 L200.75 228.52 L201.33 226.98 L201.92 225.45 L202.50 223.93 L203.08 222.41 L203.67 220.89 L204.25 219.38 L204.84 217.88 L205.42 216.38 L206.00 214.88 L206.59 213.39 L207.17 211.91 L207.76 210.42 L208.34 208.95 L208.93 207.47 L209.51 206.00 L210.09 204.54 L210.68 203.08 L211.26 201.62 L211.85 200.17 L212.43 198.72 L213.02 197.28 L213.60 195.84 L214.18 194.41 L214.77 192.98 L215.35 191.57 L215.94 190.15 L216.52 188.75 L217.11 187.35 L217.69 185.96 L218.27 184.58 L218.86 183.21 L219.44 181.84 L220.03 180.49 L220.61 179.15 L221.20 177.81 L221.78 176.49 L222.36 175.18 L222.95 173.89 L223.53 172.60 L224.12 171.33 L224.70 170.07 L225.29 168.82 L225.87 167.59 L226.45 166.37 L227.04 165.16 L227.62 163.97 L228.21 162.79 L228.79 161.62 L229.38 160.47 L229.96 159.33 L230.54 158.20 L231.13 157.09 L231.71 155.99 L232.30 154.91 L232.88 153.85 L233.46 152.79 L234.05 151.76 L234.63 150.74 L235.22 149.73 L235.80 148.74 L236.39 147.76 L236.97 146.80 L237.55 145.86 L238.14 144.92 L238.72 144.01 L239.31 143.11 L239.89 142.22 L240.48 141.34 L241.06 140.48 L241.64 139.63 L242.23 138.79 L242.81 137.97 L243.40 137.15 L243.98 136.34 L244.57 135.55 L245.15 134.76 L245.73 133.98 L246.32 133.21 L246.90 132.44 L247.49 131.68 L248.07 130.93 L248.66 130.18 L249.24 129.44 L249.82 128.70 L250.41 127.96 L250.99 127.23 L251.58 126.50 L252.16 125.77 L252.75 125.05 L253.33 124.33 L253.91 123.61 L254.50 122.89 L255.08 122.17 L255.67 121.46 L256.25 120.74 L256.83 120.03 L257.42 119.32 L258.00 118.61 L258.59 117.91 L259.17 117.21 L259.76 116.50 L260.34 115.81 L260.92 115.11 L261.51 114.42 L262.09 113.73 L262.68 113.05 L263.26 112.37 L263.85 111.69 L264.43 111.03 L265.01 110.36 L265.60 109.70 L266.18 109.05 L266.77 108.40 L267.35 107.76 L267.94 107.13 L268.52 106.50 L269.10 105.88 L269.69 105.27 L270.27 104.67 L270.86 104.07 L271.44 103.48 L272.03 102.90 L272.61 102.33 L273.19 101.76 L273.78 101.20 L274.36 100.65 L274.95 100.11 L275.53 99.57 L276.12 99.04 L276.70 98.51 L277.28 97.99 L277.87 97.48 L278.45 96.97 L279.04 96.47 L279.62 95.97 L280.20 95.48 L280.79 94.99 L281.37 94.50 L281.96 94.02 L282.54 93.54 L283.13 93.07 L283.71 92.59 L284.29 92.12 L284.88 91.65 L285.46 91.19 L286.05 90.72 L286.63 90.26 L287.22 89.80 L287.80 89.34 L288.38 88.88 L288.97 88.43 L289.55 87.97 L290.14 87.52 L290.72 87.06 L291.31 86.61 L291.89 86.16 L292.47 85.70 L293.06 85.25 L293.64 84.80 L294.23 84.35 L294.81 83.90 L295.40 83.45 L295.98 83.00 L296.56 82.55 L297.15 82.10 L297.73 81.65 L298.32 81.20 L298.90 80.75 L299.49 80.30 L300.07 79.85 L300.65 79.40 L301.24 78.95 L301.82 78.50 L302.41 78.05 L302.99 77.61 L303.57 77.16 L304.16 76.72 L304.74 76.27 L305.33 75.83 L305.91 75.39 L306.50 74.95 L307.08 74.51 L307.66 74.08 L308.25 73.65 L308.83 73.22 L309.42 72.80 L310.00 72.38 L310.59 71.96 L311.17 71.56 L311.75 71.16 L312.34 70.76 L312.92 70.38 L313.51 70.00 L314.09 69.63 L314.68 69.27 L315.26 68.92 L315.84 68.59 L316.43 68.26 L317.01 67.95 L317.60 67.64 L318.18 67.35 L318.77 67.08 L319.35 66.81 L319.93 66.55 L320.52 66.31 L321.10 66.07 L321.69 65.85 L322.27 65.63 L322.86 65.42 L323.44 65.22 L324.02 65.03 L324.61 64.84 L325.19 64.66 L325.78 64.48 L326.36 64.30 L326.94 64.13 L327.53 63.96 L328.11 63.79 L328.70 63.62 L329.28 63.45 L329.87 63.29 L330.45 63.12 L331.03 62.96 L331.62 62.80 L332.20 62.63 L332.79 62.47 L333.37 62.31 L333.96 62.15 L334.54 61.99 L335.12 61.83 L335.71 61.67 L336.29 61.51 L336.88 61.35 L337.46 61.19 L338.05 61.04 L338.63 60.88 L339.21 60.73 L339.80 60.58 L340.38 60.43 L340.97 60.28 L341.55 60.13 L342.14 59.98 L342.72 59.84 L343.30 59.70 L343.89 59.55 L344.47 59.41 L345.06 59.28 L345.64 59.14 L346.23 59.00 L346.81 58.87 L347.39 58.73 L347.98 58.60 L348.56 58.47 L349.15 58.34 L349.73 58.21 L350.31 58.08 L350.90 57.96 L351.48 57.83 L352.07 57.71 L352.65 57.58 L353.24 57.46 L353.82 57.34 L354.40 57.22 L354.99 57.10 L355.57 56.98 L356.16 56.86 L356.74 56.74 L357.33 56.62 L357.91 56.50 L358.49 56.39 L359.08 56.27 L359.66 56.16 L360.25 56.04 L360.83 55.93 L361.42 55.82 L362.00 55.71 L362.58 55.60 L363.17 55.49 L363.75 55.38 L364.34 55.27 L364.92 55.16 L365.51 55.06 L366.09 54.95 L366.67 54.85 L367.26 54.74 L367.84 54.64 L368.43 54.54 L369.01 54.44 L369.60 54.34 L370.18 54.24 L370.76 54.14 L371.35 54.05 L371.93 53.95 L372.52 53.86 L373.10 53.76 L373.68 53.67 L374.27 53.58 L374.85 53.49 L375.44 53.40 L376.02 53.31 L376.61 53.22 L377.19 53.14 L377.77 53.05 L378.36 52.97 L378.94 52.89 L379.53 52.80 L380.11 52.72 L380.70 52.65 L381.28 52.57 L381.86 52.49 L382.45 52.42 L383.03 52.34 L383.62 52.27 L384.20 52.20 L384.79 52.14 L385.37 52.07 L385.95 52.00 L386.54 51.94 L387.12 51.88 L387.71 51.82 L388.29 51.76 L388.88 51.71 L389.46 51.65 L390.04 51.60 L390.63 51.55 L391.21 51.51 L391.80 51.46 L392.38 51.42 L392.97 51.37 L393.55 51.33 L394.13 51.29 L394.72 51.25 L395.30 51.21 L395.89 51.18 L396.47 51.14 L397.05 51.11 L397.64 51.08 L398.22 51.05 L398.81 51.03 L399.39 51.00 L399.98 50.98 L400.56 50.96 L401.14 50.94 L401.73 50.92 L402.31 50.90 L402.90 50.89 L403.48 50.87 L404.07 50.86 L404.65 50.85" stroke="#ff7f50" stroke-dasharray="4.6 2"/>
<path d="M54.68 476.22 L55.27 476.01 L55.85 475.79 L56.44 475.56 L57.02 475.32 L57.61 475.05 L58.19 474.77 L58.77 474.47 L59.36 474.14 L59.94 473.79 L60.53 473.41 L61.11 473.01 L61.70 472.58 L62.28 472.13 L62.86 471.65 L63.45 471.14 L64.03 470.60 L64.62 470.04 L65.20 469.45 L65.78 468.83 L66.37 468.19 L66.95 467.52 L67.54 466.83 L68.12 466.12 L68.71 465.39 L69.29 464.63 L69.87 463.85 L70.46 463.05 L71.04 462.24 L71.63 461.40 L72.21 460.55 L72.80 459.68 L73.38 458.80 L73.96 457.91 L74.55 457.02 L75.13 456.14 L75.72 455.26 L76.30 454.40 L76.89 453.55 L77.47 452.74 L78.05 451.95 L78.64 451.19 L79.22 450.46 L79.81 449.77 L80.39 449.11 L80.98 448.48 L81.56 447.89 L82.14 447.33 L82.73 446.80 L83.31 446.31 L83.90 445.84 L84.48 445.40 L85.07 444.99 L85.65 444.60 L86.23 444.24 L86.82 443.89 L87.40 443.57 L87.99 443.26 L88.57 442.98 L89.16 442.70 L89.74 442.44 L90.32 442.19 L90.91 441.95 L91.49 441.72 L92.08 441.50 L92.66 441.27 L93.24 441.05 L93.83 440.82 L94.41 440.59 L95.00 440.36 L95.58 440.11 L96.17 439.85 L96.75 439.58 L97.33 439.29 L97.92 438.99 L98.50 438.67 L99.09 438.32 L99.67 437.96 L100.26 437.58 L100.84 437.17 L101.42 436.75 L102.01 436.29 L102.59 435.81 L103.18 435.31 L103.76 434.78 L104.35 434.22 L104.93 433.63 L105.51 433.01 L106.10 432.36 L106.68 431.68 L107.27 430.97 L107.85 430.23 L108.44 429.46 L109.02 428.67 L109.60 427.85 L110.19 427.01 L110.77 426.14 L111.36 425.25 L111.94 424.34 L112.53 423.41 L113.11 422.46 L113.69 421.49 L114.28 420.50 L114.86 419.49 L115.45 418.47 L116.03 417.42 L116.61 416.36 L117.20 415.28 L117.78 414.19 L118.37 413.07 L118.95 411.94 L119.54 410.80 L120.12 409.63 L120.70 408.45 L121.29 407.25 L121.87 406.02 L122.46 404.78 L123.04 403.52 L123.63 402.23 L124.21 400.92 L124.79 399.58 L125.38 398.21 L125.96 396.81 L126.55 395.37 L127.13 393.91 L127.72 392.42 L128.30 390.89 L128.88 389.33 L129.47 387.75 L130.05 386.13 L130.64 384.50 L131.22 382.84 L131.81 381.17 L132.39 379.48 L132.97 377.77 L133.56 376.05 L134.14 374.33 L134.73 372.59 L135.31 370.85 L135.90 369.10 L136.48 367.34 L137.06 365.58 L137.65 363.81 L138.23 362.04 L138.82 360.26 L139.40 358.48 L139.98 356.70 L140.57 354.91 L141.15 353.13 L141.74 351.34 L142.32 349.55 L142.91 347.75 L143.49 345.96 L144.07 344.16 L144.66 342.37 L145.24 340.57 L145.83 338.77 L146.41 336.97 L147.00 335.16 L147.58 333.35 L148.16 331.54 L148.75 329.73 L149.33 327.91 L149.92 326.09 L150.50 324.26 L151.09 322.43 L151.67 320.60 L152.25 318.77 L152.84 316.94 L153.42 315.11 L154.01 313.28 L154.59 311.46 L155.18 309.64 L155.76 307.83 L156.34 306.03 L156.93 304.24 L157.51 302.46 L158.10 300.69 L158.68 298.93 L159.27 297.19 L159.85 295.45 L160.43 293.72 L161.02 291.99 L161.60 290.26 L162.19 288.52 L162.77 286.78 L163.35 285.03 L163.94 283.26 L164.52 281.47 L165.11 279.66 L165.69 277.83 L166.28 275.98 L166.86 274.11 L167.44 272.21 L168.03 270.30 L168.61 268.36 L169.20 266.42 L169.78 264.45 L170.37 262.48 L170.95 260.50 L171.53 258.51 L172.12 256.51 L172.70 254.52 L173.29 252.52 L173.87 250.53 L174.46 248.54 L175.04 246.55 L175.62 244.57 L176.21 242.60 L176.79 240.63 L177.38 238.66 L177.96 236.70 L178.55 234.75 L179.13 232.80 L179.71 230.86 L180.30 228.92 L180.88 226.98 L181.47 225.05 L182.05 223.12 L182.63 221.20 L183.22 219.28 L183.80 217.37 L184.39 215.46 L184.97 213.55 L185.56 211.66 L186.14 209.77 L186.72 207.89 L187.31 206.01 L187.89 204.15 L188.48 202.29 L189.06 200.45 L189.65 198.62 L190.23 196.80 L190.81 194.98 L191.40 193.18 L191.98 191.40 L192.57 189.62 L193.15 187.85 L193.74 186.09 L194.32 184.33 L194.90 182.59 L195.49 180.85 L196.07 179.13 L196.66 177.40 L197.24 175.69 L197.83 173.98 L198.41 172.28 L198.99 170.58 L199.58 168.90 L200.16 167.22 L200.75 165.55 L201.33 163.89 L201.92 162.24 L202.50 160.61 L203.08 158.98 L203.67 157.37 L204.25 155.77 L204.84 154.18 L205.42 152.60 L206.00 151.04 L206.59 149.48 L207.17 147.94 L207.76 146.41 L208.34 144.88 L208.93 143.36 L209.51 141.84 L210.09 140.32 L210.68 138.81 L211.26 137.29 L211.85 135.77 L212.43 134.24 L213.02 132.71 L213.60 131.16 L214.18 129.61 L214.77 128.04 L215.35 126.46 L215.94 124.87 L216.52 123.26 L217.11 121.64 L217.69 120.01 L218.27 118.37 L218.86 116.72 L219.44 115.07 L220.03 113.40 L220.61 111.74 L221.20 110.07 L221.78 108.41 L222.36 106.75 L222.95 105.11 L223.53 103.48 L224.12 101.88 L224.70 100.30 L225.29 98.76 L225.87 97.26 L226.45 95.82 L227.04 94.42 L227.62 93.08 L228.21 91.80 L228.79 90.58 L229.38 89.42 L229.96 88.32 L230.54 87.26 L231.13 86.25 L231.71 85.27 L232.30 84.33 L232.88 83.41 L233.46 82.51 L234.05 81.63 L234.63 80.75 L235.22 79.88 L235.80 79.00 L236.39 78.13 L236.97 77.25 L237.55 76.37 L238.14 75.48 L238.72 74.59 L239.31 73.70 L239.89 72.81 L240.48 71.92 L241.06 71.04 L241.64 70.18 L242.23 69.33 L242.81 68.51 L243.40 67.71 L243.98 66.94 L244.57 66.21 L245.15 65.50 L245.73 64.83 L246.32 64.19 L246.90 63.58 L247.49 63.00 L248.07 62.44 L248.66 61.90 L249.24 61.38 L249.82 60.88 L250.41 60.39 L250.99 59.92 L251.58 59.46 L252.16 59.01 L252.75 58.57 L253.33 58.15 L253.91 57.74 L254.50 57.34 L255.08 56.95 L255.67 56.57 L256.25 56.21 L256.83 55.85 L257.42 55.51 L258.00 55.17 L258.59 54.84 L259.17 54.52 L259.76 54.20 L260.34 53.89 L260.92 53.59 L261.51 53.29 L262.09 53.00 L262.68 52.72 L263.26 52.44 L263.85 52.16 L264.43 51.89 L265.01 51.63 L265.60 51.36 L266.18 51.11 L266.77 50.85 L267.35 50.60 L267.94 50.36 L268.52 50.11 L269.10 49.87 L269.69 49.63 L270.27 49.39 L270.86 49.16 L271.44 48.93 L272.03 48.70 L272.61 48.47 L273.19 48.25 L273.78 48.03 L274.36 47.81 L274.95 47.59 L275.53 47.38 L276.12 47.17 L276.70 46.96 L277.28 46.75 L277.87 46.55 L278.45 46.35 L279.04 46.15 L279.62 45.96 L280.20 45.76 L280.79 45.57 L281.37 45.38 L281.96 45.19 L282.54 45.01 L283.13 44.82 L283.71 44.64 L284.29 44.46 L284.88 44.27 L285.46 44.09 L286.05 43.92 L286.63 43.74 L287.22 43.57 L287.80 43.39 L288.38 43.22 L288.97 43.05 L289.55 42.88 L290.14 42.71 L290.72 42.55 L291.31 42.38 L291.89 42.22 L292.47 42.06 L293.06 41.90 L293.64 41.74 L294.23 41.58 L294.81 41.43 L295.40 41.28 L295.98 41.13 L296.56 40.98 L297.15 40.83 L297.73 40.68 L298.32 40.54 L298.90 40.40 L299.49 40.26 L300.07 40.12 L300.65 39.99 L301.24 39.85 L301.82 39.72 L302.41 39.60 L302.99 39.47 L303.57 39.35 L304.16 39.24 L304.74 39.12 L305.33 39.01 L305.91 38.91 L306.50 38.81 L307.08 38.71 L307.66 38.61 L308.25 38.52 L308.83 38.44 L309.42 38.36 L310.00 38.28 L310.59 38.20 L311.17 38.13 L311.75 38.06 L312.34 37.99 L312.92 37.93 L313.51 37.87 L314.09 37.81 L314.68 37.75 L315.26 37.69 L315.84 37.63 L316.43 37.58 L317.01 37.52 L317.60 37.47 L318.18 37.41 L318.77 37.36 L319.35 37.31 L319.93 37.26 L320.52 37.21 L321.10 37.16 L321.69 37.11 L322.27 37.06 L322.86 37.02 L323.44 36.97 L324.02 36.93 L324.61 36.88 L325.19 36.84 L325.78 36.79 L326.36 36.75 L326.94 36.71 L327.53 36.67 L328.11 36.63 L328.70 36.59 L329.28 36.55 L329.87 36.51 L330.45 36.48 L331.03 36.44 L331.62 36.40 L332.20 36.37 L332.79 36.33 L333.37 36.30 L333.96 36.27 L334.54 36.24 L335.12 36.21 L335.71 36.17 L336.29 36.15 L336.88 36.12 L337.46 36.09 L338.05 36.06 L338.63 36.03 L339.21 36.01 L339.80 35.98 L340.38 35.96 L340.97 35.93 L341.55 35.91 L342.14 35.89 L342.72 35.87 L343.30 35.84 L343.89 35.82 L344.47 35.80 L345.06 35.78 L345.64 35.77 L346.23 35.75 L346.81 35.73 L347.39 35.71 L347.98 35.69 L348.56 35.68 L349.15 35.66 L349.73 35.64 L350.31 35.63 L350.90 35.61 L351.48 35.60 L352.07 35.58 L352.65 35.56 L353.24 35.55 L353.82 35.53 L354.40 35.52 L354.99 35.50 L355.57 35.49 L356.16 35.47 L356.74 35.46 L357.33 35.44 L357.91 35.43 L358.49 35.42 L359.08 35.40 L359.66 35.39 L360.25 35.38 L360.83 35.36 L361.42 35.35 L362.00 35.34 L362.58 35.32 L363.17 35.31 L363.75 35.30 L364.34 35.29 L364.92 35.28 L365.51 35.26 L366.09 35.25 L366.67 35.24 L367.26 35.23 L367.84 35.22 L368.43 35.21 L369.01 35.20 L369.60 35.19 L370.18 35.18 L370.76 35.17 L371.35 35.16 L371.93 35.15 L372.52 35.14 L373.10 35.13 L373.68 35.13 L374.27 35.12 L374.85 35.11 L375.44 35.10 L376.02 35.10 L376.61 35.09 L377.19 35.08 L377.77 35.08 L378.36 35.07 L378.94 35.07 L379.53 35.06 L380.11 35.06 L380.70 35.05 L381.28 35.05 L381.86 35.04 L382.45 35.04 L383.03 35.03 L383.62 35.03 L384.20 35.03 L384.79 35.03 L385.37 35.02 L385.95 35.02 L386.54 35.02 L387.12 35.02 L387.71 35.02 L388.29 35.02 L388.88 35.02 L389.46 35.02 L390.04 35.02 L390.63 35.02 L391.21 35.02 L391.80 35.02 L392.38 35.02 L392.97 35.03 L393.55 35.03 L394.13 35.03 L394.72 35.04 L395.30 35.04 L395.89 35.04 L396.47 35.05 L397.05 35.05 L397.64 35.06 L398.22 35.07 L398.81 35.07 L399.39 35.08 L399.98 35.09 L400.56 35.09 L401.14 35.10 L401.73 35.11 L402.31 35.12 L402.90 35.13 L403.48 35.14 L404.07 35.14 L404.65 35.15" stroke="#ff7f50"/>
<path d="M55.27 482.98 L55.85 482.66 L56.44 482.33 L57.02 481.98 L57.61 481.61 L58.19 481.21 L58.77 480.77 L59.36 480.30 L59.94 479.78 L60.53 479.23 L61.11 478.62 L61.70 477.97 L62.28 477.26 L62.86 476.51 L63.45 475.69 L64.03 474.81 L64.62 473.86 L65.20 472.80 L65.78 471.68 L66.37 470.50 L66.95 469.28 L67.54 468.01 L68.12 466.72 L68.71 465.41 L69.29 464.09 L69.87 462.78 L70.46 461.48 L71.04 460.19 L71.63 458.93 L72.21 457.68 L72.80 456.45 L73.38 455.24 L73.96 454.04 L74.55 452.86 L75.13 451.68 L75.72 450.52 L76.30 449.37 L76.89 448.24 L77.47 447.11 L78.05 446.01 L78.64 444.92 L79.22 443.85 L79.81 442.80 L80.39 441.76 L80.98 440.74 L81.56 439.72 L82.14 438.72 L82.73 437.70 L83.31 436.69 L83.90 435.67 L84.48 434.65 L85.07 433.63 L85.65 432.59 L86.23 431.54 L86.82 430.47 L87.40 429.39 L87.99 428.28 L88.57 427.15 L89.16 426.00 L89.74 424.83 L90.32 423.64 L90.91 422.42 L91.49 421.19 L92.08 419.94 L92.66 418.68 L93.24 417.41 L93.83 416.12 L94.41 414.83 L95.00 413.53 L95.58 412.23 L96.17 410.93 L96.75 409.62 L97.33 408.32 L97.92 407.01 L98.50 405.69 L99.09 404.37 L99.67 403.04 L100.26 401.70 L100.84 400.35 L101.42 398.98 L102.01 397.59 L102.59 396.17 L103.18 394.73 L103.76 393.26 L104.35 391.75 L104.93 390.22 L105.51 388.64 L106.10 387.03 L106.68 385.39 L107.27 383.71 L107.85 381.99 L108.44 380.24 L109.02 378.45 L109.60 376.64 L110.19 374.79 L110.77 372.92 L111.36 371.02 L111.94 369.10 L112.53 367.16 L113.11 365.19 L113.69 363.21 L114.28 361.20 L114.86 359.18 L115.45 357.14 L116.03 355.08 L116.61 353.00 L117.20 350.90 L117.78 348.79 L118.37 346.66 L118.95 344.52 L119.54 342.36 L120.12 340.18 L120.70 337.99 L121.29 335.79 L121.87 333.58 L122.46 331.36 L123.04 329.13 L123.63 326.89 L124.21 324.65 L124.79 322.41 L125.38 320.16 L125.96 317.92 L126.55 315.67 L127.13 313.43 L127.72 311.19 L128.30 308.95 L128.88 306.72 L129.47 304.49 L130.05 302.27 L130.64 300.06 L131.22 297.85 L131.81 295.65 L132.39 293.46 L132.97 291.27 L133.56 289.09 L134.14 286.92 L134.73 284.76 L135.31 282.60 L135.90 280.45 L136.48 278.30 L137.06 276.16 L137.65 274.03 L138.23 271.90 L138.82 269.78 L139.40 267.66 L139.98 265.55 L140.57 263.45 L141.15 261.35 L141.74 259.26 L142.32 257.18 L142.91 255.10 L143.49 253.03 L144.07 250.98 L144.66 248.93 L145.24 246.90 L145.83 244.89 L146.41 242.88 L147.00 240.90 L147.58 238.94 L148.16 236.99 L148.75 235.07 L149.33 233.18 L149.92 231.31 L150.50 229.46 L151.09 227.65 L151.67 225.86 L152.25 224.11 L152.84 222.38 L153.42 220.69 L154.01 219.02 L154.59 217.39 L155.18 215.78 L155.76 214.20 L156.34 212.66 L156.93 211.14 L157.51 209.65 L158.10 208.19 L158.68 206.75 L159.27 205.34 L159.85 203.95 L160.43 202.60 L161.02 201.26 L161.60 199.96 L162.19 198.68 L162.77 197.42 L163.35 196.19 L163.94 194.98 L164.52 193.80 L165.11 192.65 L165.69 191.51 L166.28 190.40 L166.86 189.31 L167.44 188.24 L168.03 187.19 L168.61 186.16 L169.20 185.15 L169.78 184.16 L170.37 183.17 L170.95 182.21 L171.53 181.25 L172.12 180.31 L172.70 179.38 L173.29 178.47 L173.87 177.56 L174.46 176.66 L175.04 175.77 L175.62 174.89 L176.21 174.02 L176.79 173.15 L177.38 172.30 L177.96 171.45 L178.55 170.60 L179.13 169.77 L179.71 168.94 L180.30 168.11 L180.88 167.29 L181.47 166.48 L182.05 165.67 L182.63 164.87 L183.22 164.07 L183.80 163.27 L184.39 162.48 L184.97 161.68 L185.56 160.90 L186.14 160.11 L186.72 159.33 L187.31 158.55 L187.89 157.78 L188.48 157.00 L189.06 156.23 L189.65 155.46 L190.23 154.69 L190.81 153.93 L191.40 153.17 L191.98 152.41 L192.57 151.66 L193.15 150.91 L193.74 150.16 L194.32 149.41 L194.90 148.67 L195.49 147.93 L196.07 147.19 L196.66 146.46 L197.24 145.73 L197.83 145.01 L198.41 144.28 L198.99 143.56 L199.58 142.85 L200.16 142.13 L200.75 141.43 L201.33 140.72 L201.92 140.02 L202.50 139.31 L203.08 138.62 L203.67 137.92 L204.25 137.23 L204.84 136.54 L205.42 135.85 L206.00 135.17 L206.59 134.49 L207.17 133.81 L207.76 133.13 L208.34 132.46 L208.93 131.79 L209.51 131.12 L210.09 130.45 L210.68 129.79 L211.26 129.13 L211.85 128.47 L212.43 127.81 L213.02 127.16 L213.60 126.51 L214.18 125.86 L214.77 125.21 L215.35 124.57 L215.94 123.93 L216.52 123.30 L217.11 122.66 L217.69 122.03 L218.27 121.40 L218.86 120.78 L219.44 120.15 L220.03 119.54 L220.61 118.92 L221.20 118.31 L221.78 117.70 L222.36 117.09 L222.95 116.48 L223.53 115.88 L224.12 115.29 L224.70 114.69 L225.29 114.10 L225.87 113.51 L226.45 112.93 L227.04 112.34 L227.62 111.77 L228.21 111.19 L228.79 110.62 L229.38 110.05 L229.96 109.48 L230.54 108.92 L231.13 108.36 L231.71 107.81 L232.30 107.25 L232.88 106.70 L233.46 106.15 L234.05 105.61 L234.63 105.07 L235.22 104.53 L235.80 103.99 L236.39 103.45 L236.97 102.92 L237.55 102.39 L238.14 101.87 L238.72 101.34 L239.31 100.82 L239.89 100.30 L240.48 99.78 L241.06 99.27 L241.64 98.75 L242.23 98.24 L242.81 97.74 L243.40 97.23 L243.98 96.73 L244.57 96.23 L245.15 95.73 L245.73 95.23 L246.32 94.74 L246.90 94.25 L247.49 93.76 L248.07 93.28 L248.66 92.80 L249.24 92.32 L249.82 91.84 L250.41 91.37 L250.99 90.90 L251.58 90.43 L252.16 89.96 L252.75 89.50 L253.33 89.04 L253.91 88.58 L254.50 88.13 L255.08 87.68 L255.67 87.23 L256.25 86.79 L256.83 86.35 L257.42 85.91 L258.00 85.47 L258.59 85.04 L259.17 84.61 L259.76 84.18 L260.34 83.75 L260.92 83.33 L261.51 82.91 L262.09 82.49 L262.68 82.08 L263.26 81.66 L263.85 81.25 L264.43 80.84 L265.01 80.43 L265.60 80.03 L266.18 79.62 L266.77 79.22 L267.35 78.82 L267.94 78.42 L268.52 78.02 L269.10 77.63 L269.69 77.23 L270.27 76.84 L270.86 76.44 L271.44 76.05 L272.03 75.66 L272.61 75.27 L273.19 74.88 L273.78 74.50 L274.36 74.11 L274.95 73.73 L275.53 73.35 L276.12 72.96 L276.70 72.58 L277.28 72.20 L277.87 71.82 L278.45 71.45 L279.04 71.07 L279.62 70.69 L280.20 70.32 L280.79 69.95 L281.37 69.58 L281.96 69.21 L282.54 68.84 L283.13 68.47 L283.71 68.10 L284.29 67.74 L284.88 67.37 L285.46 67.01 L286.05 66.65 L286.63 66.29 L287.22 65.93 L287.80 65.58 L288.38 65.22 L288.97 64.87 L289.55 64.52 L290.14 64.17 L290.72 63.83 L291.31 63.49 L291.89 63.15 L292.47 62.81 L293.06 62.48 L293.64 62.15 L294.23 61.82 L294.81 61.50 L295.40 61.18 L295.98 60.87 L296.56 60.56 L297.15 60.25 L297.73 59.94 L298.32 59.64 L298.90 59.35 L299.49 59.05 L300.07 58.76 L300.65 58.47 L301.24 58.19 L301.82 57.91 L302.41 57.63 L302.99 57.36 L303.57 57.09 L304.16 56.82 L304.74 56.56 L305.33 56.29 L305.91 56.03 L306.50 55.77 L307.08 55.52 L307.66 55.27 L308.25 55.01 L308.83 54.77 L309.42 54.52 L310.00 54.28 L310.59 54.03 L311.17 53.80 L311.75 53.56 L312.34 53.32 L312.92 53.09 L313.51 52.86 L314.09 52.63 L314.68 52.41 L315.26 52.18 L315.84 51.96 L316.43 51.74 L317.01 51.52 L317.60 51.31 L318.18 51.10 L318.77 50.89 L319.35 50.68 L319.93 50.48 L320.52 50.28 L321.10 50.08 L321.69 49.88 L322.27 49.68 L322.86 49.49 L323.44 49.30 L324.02 49.11 L324.61 48.93 L325.19 48.74 L325.78 48.56 L326.36 48.38 L326.94 48.21 L327.53 48.03 L328.11 47.86 L328.70 47.69 L329.28 47.53 L329.87 47.36 L330.45 47.20 L331.03 47.04 L331.62 46.88 L332.20 46.72 L332.79 46.56 L333.37 46.41 L333.96 46.26 L334.54 46.11 L335.12 45.96 L335.71 45.82 L336.29 45.67 L336.88 45.53 L337.46 45.39 L338.05 45.26 L338.63 45.12 L339.21 44.99 L339.80 44.86 L340.38 44.73 L340.97 44.60 L341.55 44.48 L342.14 44.36 L342.72 44.24 L343.30 44.12 L343.89 44.00 L344.47 43.89 L345.06 43.78 L345.64 43.67 L346.23 43.56 L346.81 43.45 L347.39 43.35 L347.98 43.24 L348.56 43.14 L349.15 43.04 L349.73 42.94 L350.31 42.85 L350.90 42.75 L351.48 42.66 L352.07 42.57 L352.65 42.48 L353.24 42.39 L353.82 42.30 L354.40 42.21 L354.99 42.13 L355.57 42.04 L356.16 41.96 L356.74 41.88 L357.33 41.80 L357.91 41.72 L358.49 41.65 L359.08 41.57 L359.66 41.50 L360.25 41.43 L360.83 41.35 L361.42 41.28 L362.00 41.22 L362.58 41.15 L363.17 41.08 L363.75 41.02 L364.34 40.95 L364.92 40.89 L365.51 40.83 L366.09 40.76 L366.67 40.70 L367.26 40.65 L367.84 40.59 L368.43 40.53 L369.01 40.47 L369.60 40.42 L370.18 40.36 L370.76 40.31 L371.35 40.26 L371.93 40.20 L372.52 40.15 L373.10 40.10 L373.68 40.05 L374.27 40.01 L374.85 39.96 L375.44 39.91 L376.02 39.87 L376.61 39.82 L377.19 39.78 L377.77 39.73 L378.36 39.69 L378.94 39.65 L379.53 39.61 L380.11 39.57 L380.70 39.54 L381.28 39.50 L381.86 39.46 L382.45 39.43 L383.03 39.40 L383.62 39.36 L384.20 39.33 L384.79 39.30 L385.37 39.27 L385.95 39.25 L386.54 39.22 L387.12 39.19 L387.71 39.17 L388.29 39.14 L388.88 39.12 L389.46 39.10 L390.04 39.08 L390.63 39.06 L391.21 39.04 L391.80 39.02 L392.38 39.01 L392.97 38.99 L393.55 38.97 L394.13 38.96 L394.72 38.94 L395.30 38.93 L395.89 38.92 L396.47 38.91 L397.05 38.90 L397.64 38.89 L398.22 38.88 L398.81 38.87 L399.39 38.87 L399.98 38.86 L400.56 38.86 L401.14 38.85 L401.73 38.85 L402.31 38.85 L402.90 38.85 L403.48 38.85 L404.07 38.85 L404.65 38.86" stroke="#fff600" stroke-dasharray="4.6 2"/>
<path d="M55.27 477.34 L55.85 476.55 L56.44 475.74 L57.02 474.91 L57.61 474.05 L58.19 473.14 L58.77 472.17 L59.36 471.14 L59.94 470.05 L60.53 468.89 L61.11 467.67 L61.70 466.38 L62.28 465.03 L62.86 463.62 L63.45 462.15 L64.03 460.62 L64.62 459.05 L65.20 457.41 L65.78 455.73 L66.37 454.00 L66.95 452.22 L67.54 450.41 L68.12 448.55 L68.71 446.67 L69.29 444.75 L69.87 442.81 L70.46 440.84 L71.04 438.87 L71.63 436.88 L72.21 434.89 L72.80 432.91 L73.38 430.92 L73.96 428.95 L74.55 426.98 L75.13 425.02 L75.72 423.07 L76.30 421.13 L76.89 419.20 L77.47 417.27 L78.05 415.36 L78.64 413.47 L79.22 411.59 L79.81 409.75 L80.39 407.94 L80.98 406.17 L81.56 404.45 L82.14 402.78 L82.73 401.15 L83.31 399.57 L83.90 398.04 L84.48 396.56 L85.07 395.12 L85.65 393.72 L86.23 392.36 L86.82 391.02 L87.40 389.70 L87.99 388.40 L88.57 387.12 L89.16 385.84 L89.74 384.57 L90.32 383.31 L90.91 382.05 L91.49 380.81 L92.08 379.56 L92.66 378.32 L93.24 377.09 L93.83 375.86 L94.41 374.63 L95.00 373.39 L95.58 372.14 L96.17 370.88 L96.75 369.59 L97.33 368.28 L97.92 366.93 L98.50 365.55 L99.09 364.12 L99.67 362.65 L100.26 361.13 L100.84 359.57 L101.42 357.96 L102.01 356.30 L102.59 354.61 L103.18 352.87 L103.76 351.10 L104.35 349.30 L104.93 347.47 L105.51 345.62 L106.10 343.75 L106.68 341.85 L107.27 339.94 L107.85 338.01 L108.44 336.07 L109.02 334.11 L109.60 332.13 L110.19 330.14 L110.77 328.12 L111.36 326.08 L111.94 324.01 L112.53 321.91 L113.11 319.77 L113.69 317.60 L114.28 315.39 L114.86 313.13 L115.45 310.82 L116.03 308.47 L116.61 306.08 L117.20 303.63 L117.78 301.13 L118.37 298.58 L118.95 295.98 L119.54 293.34 L120.12 290.64 L120.70 287.91 L121.29 285.14 L121.87 282.34 L122.46 279.51 L123.04 276.67 L123.63 273.83 L124.21 270.98 L124.79 268.14 L125.38 265.33 L125.96 262.53 L126.55 259.76 L127.13 257.02 L127.72 254.31 L128.30 251.63 L128.88 248.97 L129.47 246.35 L130.05 243.75 L130.64 241.18 L131.22 238.62 L131.81 236.09 L132.39 233.57 L132.97 231.07 L133.56 228.58 L134.14 226.11 L134.73 223.65 L135.31 221.21 L135.90 218.79 L136.48 216.38 L137.06 213.99 L137.65 211.63 L138.23 209.28 L138.82 206.96 L139.40 204.67 L139.98 202.41 L140.57 200.18 L141.15 197.99 L141.74 195.83 L142.32 193.71 L142.91 191.62 L143.49 189.58 L144.07 187.57 L144.66 185.60 L145.24 183.66 L145.83 181.75 L146.41 179.88 L147.00 178.02 L147.58 176.20 L148.16 174.39 L148.75 172.60 L149.33 170.83 L149.92 169.08 L150.50 167.35 L151.09 165.64 L151.67 163.96 L152.25 162.31 L152.84 160.70 L153.42 159.13 L154.01 157.61 L154.59 156.14 L155.18 154.72 L155.76 153.35 L156.34 152.04 L156.93 150.78 L157.51 149.56 L158.10 148.40 L158.68 147.27 L159.27 146.18 L159.85 145.12 L160.43 144.08 L161.02 143.06 L161.60 142.06 L162.19 141.08 L162.77 140.11 L163.35 139.14 L163.94 138.19 L164.52 137.24 L165.11 136.29 L165.69 135.35 L166.28 134.42 L166.86 133.48 L167.44 132.55 L168.03 131.62 L168.61 130.69 L169.20 129.77 L169.78 128.84 L170.37 127.92 L170.95 126.99 L171.53 126.07 L172.12 125.15 L172.70 124.23 L173.29 123.31 L173.87 122.39 L174.46 121.48 L175.04 120.56 L175.62 119.65 L176.21 118.74 L176.79 117.84 L177.38 116.93 L177.96 116.03 L178.55 115.14 L179.13 114.25 L179.71 113.36 L180.30 112.48 L180.88 111.61 L181.47 110.74 L182.05 109.88 L182.63 109.02 L183.22 108.17 L183.80 107.32 L184.39 106.48 L184.97 105.65 L185.56 104.82 L186.14 104.00 L186.72 103.19 L187.31 102.38 L187.89 101.58 L188.48 100.78 L189.06 99.99 L189.65 99.21 L190.23 98.43 L190.81 97.67 L191.40 96.91 L191.98 96.16 L192.57 95.42 L193.15 94.69 L193.74 93.97 L194.32 93.26 L194.90 92.57 L195.49 91.88 L196.07 91.22 L196.66 90.56 L197.24 89.93 L197.83 89.31 L198.41 88.70 L198.99 88.11 L199.58 87.54 L200.16 86.99 L200.75 86.45 L201.33 85.93 L201.92 85.42 L202.50 84.93 L203.08 84.45 L203.67 83.98 L204.25 83.53 L204.84 83.08 L205.42 82.64 L206.00 82.21 L206.59 81.78 L207.17 81.36 L207.76 80.94 L208.34 80.52 L208.93 80.10 L209.51 79.69 L210.09 79.27 L210.68 78.86 L211.26 78.45 L211.85 78.03 L212.43 77.62 L213.02 77.20 L213.60 76.78 L214.18 76.36 L214.77 75.93 L215.35 75.50 L215.94 75.06 L216.52 74.61 L217.11 74.15 L217.69 73.68 L218.27 73.20 L218.86 72.70 L219.44 72.20 L220.03 71.68 L220.61 71.15 L221.20 70.61 L221.78 70.07 L222.36 69.52 L222.95 68.96 L223.53 68.41 L224.12 67.85 L224.70 67.29 L225.29 66.73 L225.87 66.18 L226.45 65.62 L227.04 65.08 L227.62 64.53 L228.21 63.99 L228.79 63.45 L229.38 62.92 L229.96 62.39 L230.54 61.86 L231.13 61.34 L231.71 60.82 L232.30 60.30 L232.88 59.80 L233.46 59.29 L234.05 58.80 L234.63 58.32 L235.22 57.84 L235.80 57.38 L236.39 56.92 L236.97 56.48 L237.55 56.06 L238.14 55.64 L238.72 55.24 L239.31 54.85 L239.89 54.47 L240.48 54.11 L241.06 53.76 L241.64 53.42 L242.23 53.08 L242.81 52.76 L243.40 52.45 L243.98 52.14 L244.57 51.85 L245.15 51.56 L245.73 51.29 L246.32 51.02 L246.90 50.76 L247.49 50.51 L248.07 50.27 L248.66 50.04 L249.24 49.81 L249.82 49.60 L250.41 49.40 L250.99 49.21 L251.58 49.02 L252.16 48.85 L252.75 48.68 L253.33 48.52 L253.91 48.36 L254.50 48.21 L255.08 48.07 L255.67 47.94 L256.25 47.80 L256.83 47.67 L257.42 47.55 L258.00 47.42 L258.59 47.30 L259.17 47.18 L259.76 47.06 L260.34 46.94 L260.92 46.82 L261.51 46.71 L262.09 46.59 L262.68 46.47 L263.26 46.36 L263.85 46.24 L264.43 46.13 L265.01 46.02 L265.60 45.90 L266.18 45.79 L266.77 45.68 L267.35 45.57 L267.94 45.46 L268.52 45.34 L269.10 45.24 L269.69 45.13 L270.27 45.02 L270.86 44.91 L271.44 44.80 L272.03 44.70 L272.61 44.59 L273.19 44.49 L273.78 44.38 L274.36 44.28 L274.95 44.17 L275.53 44.07 L276.12 43.96 L276.70 43.86 L277.28 43.75 L277.87 43.65 L278.45 43.55 L279.04 43.45 L279.62 43.34 L280.20 43.24 L280.79 43.14 L281.37 43.04 L281.96 42.94 L282.54 42.83 L283.13 42.73 L283.71 42.63 L284.29 42.53 L284.88 42.43 L285.46 42.33 L286.05 42.23 L286.63 42.14 L287.22 42.04 L287.80 41.94 L288.38 41.85 L288.97 41.75 L289.55 41.66 L290.14 41.57 L290.72 41.48 L291.31 41.39 L291.89 41.30 L292.47 41.21 L293.06 41.12 L293.64 41.04 L294.23 40.95 L294.81 40.86 L295.40 40.78 L295.98 40.69 L296.56 40.60 L297.15 40.51 L297.73 40.42 L298.32 40.33 L298.90 40.24 L299.49 40.14 L300.07 40.05 L300.65 39.94 L301.24 39.84 L301.82 39.73 L302.41 39.62 L302.99 39.51 L303.57 39.39 L304.16 39.27 L304.74 39.15 L305.33 39.02 L305.91 38.90 L306.50 38.77 L307.08 38.64 L307.66 38.51 L308.25 38.39 L308.83 38.26 L309.42 38.14 L310.00 38.02 L310.59 37.90 L311.17 37.79 L311.75 37.68 L312.34 37.58 L312.92 37.48 L313.51 37.38 L314.09 37.29 L314.68 37.20 L315.26 37.12 L315.84 37.04 L316.43 36.96 L317.01 36.89 L317.60 36.82 L318.18 36.75 L318.77 36.69 L319.35 36.63 L319.93 36.57 L320.52 36.51 L321.10 36.46 L321.69 36.40 L322.27 36.35 L322.86 36.30 L323.44 36.25 L324.02 36.20 L324.61 36.15 L325.19 36.11 L325.78 36.06 L326.36 36.02 L326.94 35.98 L327.53 35.94 L328.11 35.90 L328.70 35.86 L329.28 35.83 L329.87 35.79 L330.45 35.76 L331.03 35.72 L331.62 35.69 L332.20 35.66 L332.79 35.63 L333.37 35.60 L333.96 35.57 L334.54 35.55 L335.12 35.52 L335.71 35.50 L336.29 35.47 L336.88 35.45 L337.46 35.43 L338.05 35.40 L338.63 35.38 L339.21 35.36 L339.80 35.34 L340.38 35.32 L340.97 35.30 L341.55 35.29 L342.14 35.27 L342.72 35.25 L343.30 35.23 L343.89 35.22 L344.47 35.20 L345.06 35.19 L345.64 35.17 L346.23 35.16 L346.81 35.14 L347.39 35.13 L347.98 35.11 L348.56 35.10 L349.15 35.08 L349.73 35.07 L350.31 35.06 L350.90 35.04 L351.48 35.03 L352.07 35.01 L352.65 35.00 L353.24 34.98 L353.82 34.97 L354.40 34.96 L354.99 34.94 L355.57 34.93 L356.16 34.92 L356.74 34.90 L357.33 34.89 L357.91 34.88 L358.49 34.86 L359.08 34.85 L359.66 34.84 L360.25 34.82 L360.83 34.81 L361.42 34.80 L362.00 34.78 L362.58 34.77 L363.17 34.76 L363.75 34.75 L364.34 34.74 L364.92 34.73 L365.51 34.71 L366.09 34.70 L366.67 34.69 L367.26 34.68 L367.84 34.67 L368.43 34.66 L369.01 34.65 L369.60 34.64 L370.18 34.63 L370.76 34.62 L371.35 34.62 L371.93 34.61 L372.52 34.60 L373.10 34.59 L373.68 34.58 L374.27 34.58 L374.85 34.57 L375.44 34.56 L376.02 34.56 L376.61 34.55 L377.19 34.54 L377.77 34.54 L378.36 34.53 L378.94 34.52 L379.53 34.52 L380.11 34.51 L380.70 34.51 L381.28 34.50 L381.86 34.49 L382.45 34.49 L383.03 34.48 L383.62 34.47 L384.20 34.47 L384.79 34.46 L385.37 34.46 L385.95 34.45 L386.54 34.45 L387.12 34.44 L387.71 34.43 L388.29 34.43 L388.88 34.42 L389.46 34.42 L390.04 34.41 L390.63 34.41 L391.21 34.40 L391.80 34.40 L392.38 34.39 L392.97 34.39 L393.55 34.39 L394.13 34.38 L394.72 34.38 L395.30 34.37 L395.89 34.37 L396.47 34.37 L397.05 34.36 L397.64 34.36 L398.22 34.36 L398.81 34.35 L399.39 34.35 L399.98 34.35 L400.56 34.34 L401.14 34.34 L401.73 34.34 L402.31 34.34 L402.90 34.34 L403.48 34.33 L404.07 34.33 L404.65 34.33" stroke="#fff600"/>
<path d="M55.27 442.43 L55.85 441.78 L56.44 441.12 L57.02 440.43 L57.61 439.71 L58.19 438.94 L58.77 438.13 L59.36 437.27 L59.94 436.35 L60.53 435.37 L61.11 434.33 L61.70 433.23 L62.28 432.07 L62.86 430.82 L63.45 429.49 L64.03 428.05 L64.62 426.50 L65.20 424.76 L65.78 422.89 L66.37 420.90 L66.95 418.80 L67.54 416.61 L68.12 414.36 L68.71 412.05 L69.29 409.71 L69.87 407.36 L70.46 405.00 L71.04 402.64 L71.63 400.29 L72.21 397.94 L72.80 395.58 L73.38 393.23 L73.96 390.86 L74.55 388.47 L75.13 386.05 L75.72 383.59 L76.30 381.09 L76.89 378.54 L77.47 375.93 L78.05 373.25 L78.64 370.51 L79.22 367.70 L79.81 364.83 L80.39 361.91 L80.98 358.95 L81.56 355.95 L82.14 352.92 L82.73 349.89 L83.31 346.83 L83.90 343.74 L84.48 340.62 L85.07 337.48 L85.65 334.33 L86.23 331.17 L86.82 328.00 L87.40 324.82 L87.99 321.65 L88.57 318.48 L89.16 315.31 L89.74 312.15 L90.32 309.01 L90.91 305.88 L91.49 302.76 L92.08 299.65 L92.66 296.57 L93.24 293.51 L93.83 290.46 L94.41 287.44 L95.00 284.45 L95.58 281.48 L96.17 278.54 L96.75 275.63 L97.33 272.76 L97.92 269.92 L98.50 267.11 L99.09 264.35 L99.67 261.63 L100.26 258.95 L100.84 256.31 L101.42 253.71 L102.01 251.16 L102.59 248.64 L103.18 246.16 L103.76 243.71 L104.35 241.28 L104.93 238.88 L105.51 236.50 L106.10 234.13 L106.68 231.77 L107.27 229.42 L107.85 227.07 L108.44 224.72 L109.02 222.38 L109.60 220.04 L110.19 217.70 L110.77 215.37 L111.36 213.05 L111.94 210.75 L112.53 208.48 L113.11 206.22 L113.69 204.00 L114.28 201.82 L114.86 199.68 L115.45 197.58 L116.03 195.52 L116.61 193.52 L117.20 191.56 L117.78 189.66 L118.37 187.80 L118.95 185.99 L119.54 184.22 L120.12 182.50 L120.70 180.82 L121.29 179.18 L121.87 177.58 L122.46 176.01 L123.04 174.47 L123.63 172.96 L124.21 171.47 L124.79 170.01 L125.38 168.57 L125.96 167.16 L126.55 165.76 L127.13 164.39 L127.72 163.03 L128.30 161.69 L128.88 160.38 L129.47 159.07 L130.05 157.79 L130.64 156.53 L131.22 155.28 L131.81 154.05 L132.39 152.85 L132.97 151.66 L133.56 150.49 L134.14 149.33 L134.73 148.20 L135.31 147.09 L135.90 146.00 L136.48 144.93 L137.06 143.88 L137.65 142.85 L138.23 141.84 L138.82 140.84 L139.40 139.87 L139.98 138.92 L140.57 137.99 L141.15 137.07 L141.74 136.18 L142.32 135.30 L142.91 134.44 L143.49 133.60 L144.07 132.77 L144.66 131.96 L145.24 131.17 L145.83 130.39 L146.41 129.63 L147.00 128.88 L147.58 128.15 L148.16 127.42 L148.75 126.72 L149.33 126.02 L149.92 125.34 L150.50 124.66 L151.09 124.00 L151.67 123.35 L152.25 122.71 L152.84 122.07 L153.42 121.45 L154.01 120.83 L154.59 120.22 L155.18 119.61 L155.76 119.01 L156.34 118.41 L156.93 117.82 L157.51 117.23 L158.10 116.65 L158.68 116.07 L159.27 115.49 L159.85 114.92 L160.43 114.34 L161.02 113.77 L161.60 113.20 L162.19 112.64 L162.77 112.08 L163.35 111.51 L163.94 110.95 L164.52 110.40 L165.11 109.84 L165.69 109.29 L166.28 108.73 L166.86 108.18 L167.44 107.64 L168.03 107.09 L168.61 106.54 L169.20 106.00 L169.78 105.46 L170.37 104.93 L170.95 104.39 L171.53 103.86 L172.12 103.33 L172.70 102.80 L173.29 102.28 L173.87 101.76 L174.46 101.25 L175.04 100.74 L175.62 100.23 L176.21 99.73 L176.79 99.23 L177.38 98.74 L177.96 98.26 L178.55 97.78 L179.13 97.30 L179.71 96.83 L180.30 96.37 L180.88 95.91 L181.47 95.46 L182.05 95.01 L182.63 94.57 L183.22 94.14 L183.80 93.71 L184.39 93.28 L184.97 92.86 L185.56 92.44 L186.14 92.03 L186.72 91.62 L187.31 91.22 L187.89 90.82 L188.48 90.42 L189.06 90.03 L189.65 89.63 L190.23 89.25 L190.81 88.86 L191.40 88.48 L191.98 88.10 L192.57 87.72 L193.15 87.35 L193.74 86.98 L194.32 86.61 L194.90 86.25 L195.49 85.89 L196.07 85.54 L196.66 85.19 L197.24 84.85 L197.83 84.51 L198.41 84.19 L198.99 83.86 L199.58 83.55 L200.16 83.24 L200.75 82.94 L201.33 82.65 L201.92 82.36 L202.50 82.09 L203.08 81.82 L203.67 81.55 L204.25 81.30 L204.84 81.05 L205.42 80.80 L206.00 80.57 L206.59 80.34 L207.17 80.11 L207.76 79.89 L208.34 79.67 L208.93 79.46 L209.51 79.25 L210.09 79.04 L210.68 78.84 L211.26 78.64 L211.85 78.44 L212.43 78.24 L213.02 78.05 L213.60 77.85 L214.18 77.66 L214.77 77.47 L215.35 77.28 L215.94 77.09 L216.52 76.89 L217.11 76.70 L217.69 76.50 L218.27 76.30 L218.86 76.10 L219.44 75.90 L220.03 75.68 L220.61 75.47 L221.20 75.25 L221.78 75.02 L222.36 74.79 L222.95 74.55 L223.53 74.31 L224.12 74.06 L224.70 73.80 L225.29 73.54 L225.87 73.27 L226.45 73.00 L227.04 72.72 L227.62 72.44 L228.21 72.16 L228.79 71.87 L229.38 71.58 L229.96 71.29 L230.54 70.99 L231.13 70.70 L231.71 70.40 L232.30 70.11 L232.88 69.81 L233.46 69.52 L234.05 69.23 L234.63 68.93 L235.22 68.65 L235.80 68.36 L236.39 68.08 L236.97 67.80 L237.55 67.52 L238.14 67.25 L238.72 66.99 L239.31 66.73 L239.89 66.47 L240.48 66.23 L241.06 65.99 L241.64 65.75 L242.23 65.52 L242.81 65.30 L243.40 65.09 L243.98 64.88 L244.57 64.68 L245.15 64.48 L245.73 64.29 L246.32 64.11 L246.90 63.93 L247.49 63.76 L248.07 63.59 L248.66 63.43 L249.24 63.27 L249.82 63.11 L250.41 62.96 L250.99 62.80 L251.58 62.65 L252.16 62.51 L252.75 62.36 L253.33 62.21 L253.91 62.07 L254.50 61.92 L255.08 61.78 L255.67 61.63 L256.25 61.49 L256.83 61.35 L257.42 61.21 L258.00 61.06 L258.59 60.92 L259.17 60.78 L259.76 60.64 L260.34 60.50 L260.92 60.36 L261.51 60.23 L262.09 60.09 L262.68 59.95 L263.26 59.82 L263.85 59.68 L264.43 59.55 L265.01 59.41 L265.60 59.28 L266.18 59.15 L266.77 59.02 L267.35 58.89 L267.94 58.76 L268.52 58.63 L269.10 58.50 L269.69 58.37 L270.27 58.25 L270.86 58.12 L271.44 57.99 L272.03 57.87 L272.61 57.74 L273.19 57.62 L273.78 57.49 L274.36 57.36 L274.95 57.24 L275.53 57.11 L276.12 56.99 L276.70 56.87 L277.28 56.74 L277.87 56.62 L278.45 56.49 L279.04 56.37 L279.62 56.25 L280.20 56.12 L280.79 56.00 L281.37 55.88 L281.96 55.76 L282.54 55.64 L283.13 55.52 L283.71 55.40 L284.29 55.28 L284.88 55.17 L285.46 55.06 L286.05 54.95 L286.63 54.84 L287.22 54.74 L287.80 54.64 L288.38 54.54 L288.97 54.45 L289.55 54.36 L290.14 54.27 L290.72 54.19 L291.31 54.11 L291.89 54.04 L292.47 53.97 L293.06 53.91 L293.64 53.84 L294.23 53.78 L294.81 53.73 L295.40 53.67 L295.98 53.61 L296.56 53.56 L297.15 53.50 L297.73 53.44 L298.32 53.38 L298.90 53.32 L299.49 53.25 L300.07 53.18 L300.65 53.11 L301.24 53.03 L301.82 52.95 L302.41 52.87 L302.99 52.78 L303.57 52.69 L304.16 52.60 L304.74 52.51 L305.33 52.41 L305.91 52.31 L306.50 52.21 L307.08 52.11 L307.66 52.01 L308.25 51.91 L308.83 51.81 L309.42 51.71 L310.00 51.60 L310.59 51.50 L311.17 51.41 L311.75 51.31 L312.34 51.21 L312.92 51.12 L313.51 51.02 L314.09 50.93 L314.68 50.84 L315.26 50.75 L315.84 50.67 L316.43 50.58 L317.01 50.49 L317.60 50.41 L318.18 50.33 L318.77 50.25 L319.35 50.17 L319.93 50.09 L320.52 50.01 L321.10 49.93 L321.69 49.85 L322.27 49.78 L322.86 49.70 L323.44 49.62 L324.02 49.55 L324.61 49.47 L325.19 49.40 L325.78 49.32 L326.36 49.25 L326.94 49.17 L327.53 49.10 L328.11 49.02 L328.70 48.95 L329.28 48.88 L329.87 48.81 L330.45 48.73 L331.03 48.66 L331.62 48.59 L332.20 48.52 L332.79 48.45 L333.37 48.38 L333.96 48.31 L334.54 48.24 L335.12 48.17 L335.71 48.10 L336.29 48.03 L336.88 47.96 L337.46 47.89 L338.05 47.83 L338.63 47.76 L339.21 47.69 L339.80 47.62 L340.38 47.56 L340.97 47.49 L341.55 47.43 L342.14 47.36 L342.72 47.30 L343.30 47.23 L343.89 47.17 L344.47 47.10 L345.06 47.04 L345.64 46.98 L346.23 46.91 L346.81 46.85 L347.39 46.79 L347.98 46.73 L348.56 46.66 L349.15 46.60 L349.73 46.54 L350.31 46.48 L350.90 46.42 L351.48 46.35 L352.07 46.29 L352.65 46.23 L353.24 46.17 L353.82 46.11 L354.40 46.05 L354.99 45.99 L355.57 45.93 L356.16 45.87 L356.74 45.81 L357.33 45.76 L357.91 45.70 L358.49 45.64 L359.08 45.58 L359.66 45.53 L360.25 45.47 L360.83 45.42 L361.42 45.36 L362.00 45.31 L362.58 45.26 L363.17 45.20 L363.75 45.15 L364.34 45.10 L364.92 45.05 L365.51 45.00 L366.09 44.95 L366.67 44.91 L367.26 44.86 L367.84 44.82 L368.43 44.77 L369.01 44.73 L369.60 44.69 L370.18 44.65 L370.76 44.61 L371.35 44.57 L371.93 44.53 L372.52 44.49 L373.10 44.46 L373.68 44.42 L374.27 44.39 L374.85 44.36 L375.44 44.33 L376.02 44.29 L376.61 44.26 L377.19 44.23 L377.77 44.21 L378.36 44.18 L378.94 44.15 L379.53 44.12 L380.11 44.09 L380.70 44.07 L381.28 44.04 L381.86 44.02 L382.45 43.99 L383.03 43.97 L383.62 43.94 L384.20 43.92 L384.79 43.89 L385.37 43.87 L385.95 43.85 L386.54 43.82 L387.12 43.80 L387.71 43.78 L388.29 43.75 L388.88 43.73 L389.46 43.71 L390.04 43.68 L390.63 43.66 L391.21 43.64 L391.80 43.62 L392.38 43.59 L392.97 43.57 L393.55 43.55 L394.13 43.52 L394.72 43.50 L395.30 43.48 L395.89 43.45 L396.47 43.43 L397.05 43.41 L397.64 43.38 L398.22 43.36 L398.81 43.34 L399.39 43.31 L399.98 43.29 L400.56 43.26 L401.14 43.24 L401.73 43.21 L402.31 43.18 L402.90 43.16 L403.48 43.13 L404.07 43.11 L404.65 43.08 L405.23 43.05 L405.82 43.02 L406.40 43.00 L406.99 42.97 L407.57 42.94 L408.16 42.91 L408.74 42.89 L409.32 42.86 L409.91 42.83 L410.49 42.80 L411.08 42.77 L411.66 42.74 L412.25 42.71 L412.83 42.68 L413.41 42.65 L414.00 42.62 L414.58 42.59 L415.17 42.56 L415.75 42.53 L416.34 42.50 L416.92 42.47 L417.50 42.44 L418.09 42.41 L418.67 42.38 L419.26 42.35 L419.84 42.32 L420.42 42.29 L421.01 42.26 L421.59 42.23 L422.18 42.21 L422.76 42.18 L423.35 42.15 L423.93 42.12 L424.51 42.09 L425.10 42.06 L425.68 42.03 L426.27 42.00 L426.85 41.97 L427.44 41.94 L428.02 41.91 L428.60 41.88 L429.19 41.85 L429.77 41.83 L430.36 41.80 L430.94 41.77 L431.53 41.74 L432.11 41.72 L432.69 41.69 L433.28 41.66 L433.86 41.63 L434.45 41.61 L435.03 41.58 L435.62 41.56 L436.20 41.53 L436.78 41.51 L437.37 41.48 L437.95 41.46 L438.54 41.43 L439.12 41.41 L439.71 41.38 L440.29 41.36 L440.87 41.34 L441.46 41.31 L442.04 41.29 L442.63 41.27 L443.21 41.25 L443.79 41.23 L444.38 41.21 L444.96 41.19 L445.55 41.17 L446.13 41.15 L446.72 41.13 L447.30 41.11 L447.88 41.09 L448.47 41.07 L449.05 41.05 L449.64 41.03 L450.22 41.01 L450.81 41.00 L451.39 40.98 L451.97 40.96 L452.56 40.94 L453.14 40.92 L453.73 40.91 L454.31 40.89 L454.90 40.87 L455.48 40.85 L456.06 40.84 L456.65 40.82 L457.23 40.80 L457.82 40.78 L458.40 40.76 L458.99 40.74 L459.57 40.73 L460.15 40.71 L460.74 40.69 L461.32 40.67 L461.91 40.65 L462.49 40.63 L463.08 40.61 L463.66 40.59 L464.24 40.57 L464.83 40.55 L465.41 40.53 L466.00 40.51 L466.58 40.49 L467.16 40.47 L467.75 40.45 L468.33 40.42 L468.92 40.40 L469.50 40.38 L470.09 40.36 L470.67 40.34 L471.25 40.31 L471.84 40.29 L472.42 40.27 L473.01 40.25 L473.59 40.22 L474.18 40.20 L474.76 40.18 L475.34 40.16 L475.93 40.13 L476.51 40.11 L477.10 40.09 L477.68 40.06 L478.27 40.04 L478.85 40.02 L479.43 40.00 L480.02 39.97 L480.60 39.95 L481.19 39.93 L481.77 39.91 L482.36 39.88 L482.94 39.86 L483.52 39.84 L484.11 39.82 L484.69 39.80 L485.28 39.77 L485.86 39.75 L486.45 39.73 L487.03 39.71 L487.61 39.69 L488.20 39.67 L488.78 39.65 L489.37 39.63 L489.95 39.61 L490.53 39.60 L491.12 39.58 L491.70 39.56 L492.29 39.54 L492.87 39.53 L493.46 39.51 L494.04 39.50 L494.62 39.48 L495.21 39.47 L495.79 39.45 L496.38 39.44 L496.96 39.43 L497.55 39.42 L498.13 39.41 L498.71 39.40 L499.30 39.39 L499.88 39.38 L500.47 39.37 L501.05 39.36 L501.64 39.35 L502.22 39.35 L502.80 39.34 L503.39 39.33 L503.97 39.33 L504.56 39.32 L505.14 39.32 L505.73 39.31 L506.31 39.31 L506.89 39.31 L507.48 39.31 L508.06 39.30 L508.65 39.30 L509.23 39.30 L509.82 39.30 L510.40 39.30 L510.98 39.30 L511.57 39.30 L512.15 39.30 L512.74 39.30 L513.32 39.30 L513.90 39.30 L514.49 39.30 L515.07 39.30 L515.66 39.30 L516.24 39.31 L516.83 39.31 L517.41 39.31 L517.99 39.31 L518.58 39.32 L519.16 39.32 L519.75 39.32 L520.33 39.33" stroke="#38c463" stroke-dasharray="4.6 2"/>
<path d="M55.27 412.16 L55.85 411.38 L56.44 410.57 L57.02 409.73 L57.61 408.84 L58.19 407.88 L58.77 406.84 L59.36 405.73 L59.94 404.52 L60.53 403.23 L61.11 401.85 L61.70 400.38 L62.28 398.84 L62.86 397.21 L63.45 395.50 L64.03 393.71 L64.62 391.83 L65.20 389.83 L65.78 387.72 L66.37 385.50 L66.95 383.15 L67.54 380.66 L68.12 378.04 L68.71 375.29 L69.29 372.43 L69.87 369.46 L70.46 366.41 L71.04 363.29 L71.63 360.14 L72.21 356.96 L72.80 353.79 L73.38 350.63 L73.96 347.49 L74.55 344.36 L75.13 341.23 L75.72 338.09 L76.30 334.91 L76.89 331.69 L77.47 328.40 L78.05 325.03 L78.64 321.58 L79.22 318.04 L79.81 314.42 L80.39 310.72 L80.98 306.96 L81.56 303.15 L82.14 299.29 L82.73 295.41 L83.31 291.52 L83.90 287.63 L84.48 283.76 L85.07 279.90 L85.65 276.08 L86.23 272.29 L86.82 268.53 L87.40 264.79 L87.99 261.06 L88.57 257.34 L89.16 253.62 L89.74 249.88 L90.32 246.12 L90.91 242.34 L91.49 238.54 L92.08 234.72 L92.66 230.87 L93.24 227.02 L93.83 223.16 L94.41 219.29 L95.00 215.42 L95.58 211.56 L96.17 207.69 L96.75 203.84 L97.33 199.99 L97.92 196.16 L98.50 192.35 L99.09 188.57 L99.67 184.82 L100.26 181.12 L100.84 177.48 L101.42 173.91 L102.01 170.41 L102.59 167.00 L103.18 163.68 L103.76 160.46 L104.35 157.34 L104.93 154.32 L105.51 151.40 L106.10 148.59 L106.68 145.89 L107.27 143.28 L107.85 140.78 L108.44 138.38 L109.02 136.06 L109.60 133.84 L110.19 131.70 L110.77 129.64 L111.36 127.65 L111.94 125.72 L112.53 123.85 L113.11 122.03 L113.69 120.25 L114.28 118.50 L114.86 116.79 L115.45 115.11 L116.03 113.45 L116.61 111.82 L117.20 110.20 L117.78 108.60 L118.37 107.02 L118.95 105.45 L119.54 103.91 L120.12 102.39 L120.70 100.89 L121.29 99.42 L121.87 97.98 L122.46 96.58 L123.04 95.23 L123.63 93.92 L124.21 92.66 L124.79 91.47 L125.38 90.33 L125.96 89.25 L126.55 88.23 L127.13 87.27 L127.72 86.35 L128.30 85.49 L128.88 84.66 L129.47 83.86 L130.05 83.09 L130.64 82.34 L131.22 81.60 L131.81 80.87 L132.39 80.14 L132.97 79.42 L133.56 78.70 L134.14 77.98 L134.73 77.27 L135.31 76.56 L135.90 75.87 L136.48 75.18 L137.06 74.51 L137.65 73.85 L138.23 73.21 L138.82 72.59 L139.40 71.99 L139.98 71.41 L140.57 70.85 L141.15 70.32 L141.74 69.80 L142.32 69.31 L142.91 68.83 L143.49 68.36 L144.07 67.91 L144.66 67.47 L145.24 67.04 L145.83 66.62 L146.41 66.20 L147.00 65.78 L147.58 65.36 L148.16 64.94 L148.75 64.51 L149.33 64.07 L149.92 63.63 L150.50 63.18 L151.09 62.72 L151.67 62.26 L152.25 61.79 L152.84 61.32 L153.42 60.86 L154.01 60.41 L154.59 59.97 L155.18 59.54 L155.76 59.14 L156.34 58.76 L156.93 58.39 L157.51 58.05 L158.10 57.73 L158.68 57.42 L159.27 57.12 L159.85 56.84 L160.43 56.56 L161.02 56.28 L161.60 56.01 L162.19 55.74 L162.77 55.47 L163.35 55.20 L163.94 54.93 L164.52 54.66 L165.11 54.39 L165.69 54.12 L166.28 53.85 L166.86 53.57 L167.44 53.30 L168.03 53.03 L168.61 52.75 L169.20 52.48 L169.78 52.20 L170.37 51.93 L170.95 51.65 L171.53 51.38 L172.12 51.10 L172.70 50.83 L173.29 50.55 L173.87 50.28 L174.46 50.01 L175.04 49.73 L175.62 49.46 L176.21 49.19 L176.79 48.93 L177.38 48.66 L177.96 48.40 L178.55 48.14 L179.13 47.89 L179.71 47.64 L180.30 47.40 L180.88 47.16 L181.47 46.93 L182.05 46.70 L182.63 46.48 L183.22 46.27 L183.80 46.06 L184.39 45.86 L184.97 45.66 L185.56 45.46 L186.14 45.27 L186.72 45.09 L187.31 44.91 L187.89 44.73 L188.48 44.55 L189.06 44.38 L189.65 44.21 L190.23 44.04 L190.81 43.87 L191.40 43.71 L191.98 43.55 L192.57 43.38 L193.15 43.23 L193.74 43.07 L194.32 42.92 L194.90 42.76 L195.49 42.62 L196.07 42.47 L196.66 42.33 L197.24 42.19 L197.83 42.05 L198.41 41.92 L198.99 41.79 L199.58 41.66 L200.16 41.54 L200.75 41.42 L201.33 41.30 L201.92 41.19 L202.50 41.08 L203.08 40.97 L203.67 40.87 L204.25 40.77 L204.84 40.67 L205.42 40.58 L206.00 40.49 L206.59 40.40 L207.17 40.31 L207.76 40.22 L208.34 40.14 L208.93 40.06 L209.51 39.98 L210.09 39.91 L210.68 39.83 L211.26 39.76 L211.85 39.70 L212.43 39.63 L213.02 39.57 L213.60 39.51 L214.18 39.45 L214.77 39.40 L215.35 39.34 L215.94 39.29 L216.52 39.24 L217.11 39.20 L217.69 39.15 L218.27 39.10 L218.86 39.06 L219.44 39.02 L220.03 38.97 L220.61 38.93 L221.20 38.89 L221.78 38.85 L222.36 38.81 L222.95 38.77 L223.53 38.73 L224.12 38.69 L224.70 38.65 L225.29 38.61 L225.87 38.57 L226.45 38.53 L227.04 38.49 L227.62 38.45 L228.21 38.41 L228.79 38.37 L229.38 38.33 L229.96 38.29 L230.54 38.25 L231.13 38.21 L231.71 38.17 L232.30 38.13 L232.88 38.09 L233.46 38.05 L234.05 38.00 L234.63 37.96 L235.22 37.92 L235.80 37.88 L236.39 37.84 L236.97 37.80 L237.55 37.76 L238.14 37.72 L238.72 37.67 L239.31 37.63 L239.89 37.59 L240.48 37.55 L241.06 37.50 L241.64 37.46 L242.23 37.42 L242.81 37.37 L243.40 37.33 L243.98 37.29 L244.57 37.24 L245.15 37.20 L245.73 37.15 L246.32 37.11 L246.90 37.07 L247.49 37.02 L248.07 36.98 L248.66 36.93 L249.24 36.89 L249.82 36.84 L250.41 36.80 L250.99 36.75 L251.58 36.71 L252.16 36.66 L252.75 36.62 L253.33 36.57 L253.91 36.53 L254.50 36.48 L255.08 36.43 L255.67 36.39 L256.25 36.34 L256.83 36.29 L257.42 36.25 L258.00 36.20 L258.59 36.15 L259.17 36.10 L259.76 36.06 L260.34 36.01 L260.92 35.96 L261.51 35.91 L262.09 35.86 L262.68 35.81 L263.26 35.76 L263.85 35.71 L264.43 35.65 L265.01 35.60 L265.60 35.54 L266.18 35.49 L266.77 35.43 L267.35 35.37 L267.94 35.31 L268.52 35.24 L269.10 35.17 L269.69 35.10 L270.27 35.03 L270.86 34.96 L271.44 34.89 L272.03 34.81 L272.61 34.73 L273.19 34.65 L273.78 34.57 L274.36 34.49 L274.95 34.40 L275.53 34.32 L276.12 34.23 L276.70 34.15 L277.28 34.06 L277.87 33.97 L278.45 33.89 L279.04 33.80 L279.62 33.71 L280.20 33.63 L280.79 33.54 L281.37 33.45 L281.96 33.37 L282.54 33.29 L283.13 33.20 L283.71 33.12 L284.29 33.04 L284.88 32.96 L285.46 32.88 L286.05 32.81 L286.63 32.73 L287.22 32.66 L287.80 32.59 L288.38 32.52 L288.97 32.45 L289.55 32.38 L290.14 32.32 L290.72 32.25 L291.31 32.19 L291.89 32.13 L292.47 32.07 L293.06 32.01 L293.64 31.95 L294.23 31.90 L294.81 31.85 L295.40 31.79 L295.98 31.75 L296.56 31.70 L297.15 31.66 L297.73 31.61 L298.32 31.58 L298.90 31.54 L299.49 31.50 L300.07 31.47 L300.65 31.45 L301.24 31.42 L301.82 31.40 L302.41 31.38 L302.99 31.36 L303.57 31.35 L304.16 31.34 L304.74 31.34 L305.33 31.33 L305.91 31.34 L306.50 31.34 L307.08 31.35 L307.66 31.36 L308.25 31.38 L308.83 31.39 L309.42 31.41 L310.00 31.44 L310.59 31.47 L311.17 31.50 L311.75 31.53 L312.34 31.57 L312.92 31.61 L313.51 31.65 L314.09 31.69 L314.68 31.74 L315.26 31.78 L315.84 31.83 L316.43 31.88 L317.01 31.93 L317.60 31.99 L318.18 32.04 L318.77 32.09 L319.35 32.15 L319.93 32.20 L320.52 32.25 L321.10 32.31 L321.69 32.36 L322.27 32.42 L322.86 32.47 L323.44 32.53 L324.02 32.59 L324.61 32.64 L325.19 32.70 L325.78 32.75 L326.36 32.81 L326.94 32.87 L327.53 32.93 L328.11 32.98 L328.70 33.04 L329.28 33.10 L329.87 33.16 L330.45 33.22 L331.03 33.27 L331.62 33.33 L332.20 33.39 L332.79 33.45 L333.37 33.51 L333.96 33.57 L334.54 33.62 L335.12 33.68 L335.71 33.74 L336.29 33.79 L336.88 33.84 L337.46 33.89 L338.05 33.94 L338.63 33.99 L339.21 34.03 L339.80 34.06 L340.38 34.10 L340.97 34.13 L341.55 34.16 L342.14 34.18 L342.72 34.20 L343.30 34.21 L343.89 34.23 L344.47 34.24 L345.06 34.24 L345.64 34.24 L346.23 34.24 L346.81 34.24 L347.39 34.23 L347.98 34.23 L348.56 34.22 L349.15 34.20 L349.73 34.19 L350.31 34.18 L350.90 34.16 L351.48 34.14 L352.07 34.12 L352.65 34.10 L353.24 34.07 L353.82 34.05 L354.40 34.02 L354.99 33.99 L355.57 33.96 L356.16 33.93 L356.74 33.89 L357.33 33.86 L357.91 33.83 L358.49 33.79 L359.08 33.75 L359.66 33.72 L360.25 33.68 L360.83 33.64 L361.42 33.61 L362.00 33.57 L362.58 33.54 L363.17 33.50 L363.75 33.47 L364.34 33.44 L364.92 33.40 L365.51 33.37 L366.09 33.34 L366.67 33.31 L367.26 33.28 L367.84 33.26 L368.43 33.23 L369.01 33.20 L369.60 33.17 L370.18 33.15 L370.76 33.12 L371.35 33.09 L371.93 33.07 L372.52 33.04 L373.10 33.02 L373.68 32.99 L374.27 32.97 L374.85 32.94 L375.44 32.92 L376.02 32.89 L376.61 32.87 L377.19 32.85 L377.77 32.82 L378.36 32.80 L378.94 32.78 L379.53 32.76 L380.11 32.74 L380.70 32.71 L381.28 32.69 L381.86 32.67 L382.45 32.65 L383.03 32.63 L383.62 32.61 L384.20 32.59 L384.79 32.57 L385.37 32.55 L385.95 32.54 L386.54 32.52 L387.12 32.50 L387.71 32.48 L388.29 32.46 L388.88 32.45 L389.46 32.43 L390.04 32.42 L390.63 32.40 L391.21 32.38 L391.80 32.37 L392.38 32.35 L392.97 32.34 L393.55 32.33 L394.13 32.31 L394.72 32.30 L395.30 32.29 L395.89 32.27 L396.47 32.26 L397.05 32.25 L397.64 32.23 L398.22 32.22 L398.81 32.21 L399.39 32.20 L399.98 32.19 L400.56 32.18 L401.14 32.16 L401.73 32.15 L402.31 32.14 L402.90 32.13 L403.48 32.12 L404.07 32.11 L404.65 32.10 L405.23 32.09 L405.82 32.08 L406.40 32.08 L406.99 32.07 L407.57 32.06 L408.16 32.05 L408.74 32.05 L409.32 32.04 L409.91 32.03 L410.49 32.03 L411.08 32.03 L411.66 32.02 L412.25 32.02 L412.83 32.02 L413.41 32.02 L414.00 32.01 L414.58 32.01 L415.17 32.02 L415.75 32.02 L416.34 32.02 L416.92 32.02 L417.50 32.03 L418.09 32.03 L418.67 32.04 L419.26 32.04 L419.84 32.05 L420.42 32.06 L421.01 32.07 L421.59 32.08 L422.18 32.09 L422.76 32.10 L423.35 32.12 L423.93 32.13 L424.51 32.15 L425.10 32.17 L425.68 32.19 L426.27 32.22 L426.85 32.24 L427.44 32.27 L428.02 32.30 L428.60 32.32 L429.19 32.36 L429.77 32.39 L430.36 32.42 L430.94 32.45 L431.53 32.49 L432.11 32.52 L432.69 32.56 L433.28 32.59 L433.86 32.63 L434.45 32.67 L435.03 32.70 L435.62 32.74 L436.20 32.77 L436.78 32.81 L437.37 32.84 L437.95 32.88 L438.54 32.91 L439.12 32.94 L439.71 32.97 L440.29 33.00 L440.87 33.03 L441.46 33.06 L442.04 33.09 L442.63 33.11 L443.21 33.14 L443.79 33.16 L444.38 33.19 L444.96 33.21 L445.55 33.24 L446.13 33.26 L446.72 33.28 L447.30 33.31 L447.88 33.33 L448.47 33.35 L449.05 33.37 L449.64 33.39 L450.22 33.41 L450.81 33.43 L451.39 33.45 L451.97 33.47 L452.56 33.49 L453.14 33.50 L453.73 33.52 L454.31 33.53 L454.90 33.55 L455.48 33.56 L456.06 33.57 L456.65 33.58 L457.23 33.59 L457.82 33.60 L458.40 33.61 L458.99 33.61 L459.57 33.62 L460.15 33.62 L460.74 33.62 L461.32 33.62 L461.91 33.62 L462.49 33.62 L463.08 33.61 L463.66 33.60 L464.24 33.60 L464.83 33.58 L465.41 33.57 L466.00 33.56 L466.58 33.54 L467.16 33.52 L467.75 33.50 L468.33 33.48 L468.92 33.45 L469.50 33.42 L470.09 33.39 L470.67 33.36 L471.25 33.33 L471.84 33.29 L472.42 33.26 L473.01 33.22 L473.59 33.18 L474.18 33.14 L474.76 33.10 L475.34 33.06 L475.93 33.02 L476.51 32.97 L477.10 32.93 L477.68 32.88 L478.27 32.84 L478.85 32.79 L479.43 32.75 L480.02 32.70 L480.60 32.66 L481.19 32.61 L481.77 32.56 L482.36 32.51 L482.94 32.46 L483.52 32.41 L484.11 32.36 L484.69 32.31 L485.28 32.26 L485.86 32.21 L486.45 32.15 L487.03 32.10 L487.61 32.04 L488.20 31.99 L488.78 31.93 L489.37 31.88 L489.95 31.82 L490.53 31.76 L491.12 31.70 L491.70 31.65 L492.29 31.59 L492.87 31.53 L493.46 31.48 L494.04 31.42 L494.62 31.37 L495.21 31.31 L495.79 31.26 L496.38 31.21 L496.96 31.16 L497.55 31.11 L498.13 31.07 L498.71 31.02 L499.30 30.98 L499.88 30.94 L500.47 30.91 L501.05 30.87 L501.64 30.84 L502.22 30.82 L502.80 30.80 L503.39 30.78 L503.97 30.77 L504.56 30.76 L505.14 30.75 L505.73 30.75 L506.31 30.75 L506.89 30.76 L507.48 30.77 L508.06 30.79 L508.65 30.80 L509.23 30.83 L509.82 30.85 L510.40 30.88 L510.98 30.91 L511.57 30.94 L512.15 30.98 L512.74 31.02 L513.32 31.06 L513.90 31.11 L514.49 31.15 L515.07 31.20 L515.66 31.26 L516.24 31.31 L516.83 31.37 L517.41 31.42 L517.99 31.48 L518.58 31.54 L519.16 31.61 L519.75 31.67 L520.33 31.73 L520.92 31.80 L521.50 31.86" stroke="#38c463"/>
<path d="M55.27 429.62 L55.85 428.46 L56.44 427.28 L57.02 426.07 L57.61 424.82 L58.19 423.53 L58.77 422.18 L59.36 420.76 L59.94 419.28 L60.53 417.73 L61.11 416.11 L61.70 414.40 L62.28 412.59 L62.86 410.70 L63.45 408.72 L64.03 406.65 L64.62 404.49 L65.20 402.23 L65.78 399.92 L66.37 397.57 L66.95 395.20 L67.54 392.82 L68.12 390.43 L68.71 388.03 L69.29 385.64 L69.87 383.23 L70.46 380.82 L71.04 378.38 L71.63 375.90 L72.21 373.38 L72.80 370.81 L73.38 368.19 L73.96 365.51 L74.55 362.79 L75.13 360.03 L75.72 357.25 L76.30 354.46 L76.89 351.67 L77.47 348.88 L78.05 346.11 L78.64 343.35 L79.22 340.60 L79.81 337.88 L80.39 335.17 L80.98 332.47 L81.56 329.79 L82.14 327.12 L82.73 324.44 L83.31 321.78 L83.90 319.13 L84.48 316.48 L85.07 313.85 L85.65 311.23 L86.23 308.61 L86.82 306.01 L87.40 303.41 L87.99 300.83 L88.57 298.25 L89.16 295.70 L89.74 293.15 L90.32 290.63 L90.91 288.13 L91.49 285.65 L92.08 283.21 L92.66 280.79 L93.24 278.42 L93.83 276.08 L94.41 273.78 L95.00 271.52 L95.58 269.31 L96.17 267.14 L96.75 265.01 L97.33 262.93 L97.92 260.89 L98.50 258.89 L99.09 256.93 L99.67 255.01 L100.26 253.11 L100.84 251.25 L101.42 249.42 L102.01 247.61 L102.59 245.82 L103.18 244.05 L103.76 242.30 L104.35 240.56 L104.93 238.83 L105.51 237.12 L106.10 235.41 L106.68 233.72 L107.27 232.03 L107.85 230.34 L108.44 228.66 L109.02 226.98 L109.60 225.31 L110.19 223.65 L110.77 221.99 L111.36 220.33 L111.94 218.69 L112.53 217.05 L113.11 215.43 L113.69 213.82 L114.28 212.22 L114.86 210.65 L115.45 209.09 L116.03 207.55 L116.61 206.04 L117.20 204.54 L117.78 203.07 L118.37 201.62 L118.95 200.20 L119.54 198.80 L120.12 197.41 L120.70 196.05 L121.29 194.70 L121.87 193.36 L122.46 192.04 L123.04 190.73 L123.63 189.43 L124.21 188.13 L124.79 186.84 L125.38 185.56 L125.96 184.27 L126.55 182.99 L127.13 181.71 L127.72 180.43 L128.30 179.16 L128.88 177.89 L129.47 176.62 L130.05 175.35 L130.64 174.09 L131.22 172.83 L131.81 171.58 L132.39 170.34 L132.97 169.11 L133.56 167.88 L134.14 166.67 L134.73 165.46 L135.31 164.27 L135.90 163.09 L136.48 161.92 L137.06 160.77 L137.65 159.63 L138.23 158.50 L138.82 157.38 L139.40 156.28 L139.98 155.19 L140.57 154.11 L141.15 153.04 L141.74 151.98 L142.32 150.93 L142.91 149.89 L143.49 148.86 L144.07 147.83 L144.66 146.82 L145.24 145.81 L145.83 144.80 L146.41 143.80 L147.00 142.81 L147.58 141.82 L148.16 140.83 L148.75 139.85 L149.33 138.87 L149.92 137.90 L150.50 136.93 L151.09 135.96 L151.67 135.00 L152.25 134.05 L152.84 133.10 L153.42 132.15 L154.01 131.21 L154.59 130.28 L155.18 129.35 L155.76 128.44 L156.34 127.53 L156.93 126.63 L157.51 125.73 L158.10 124.85 L158.68 123.98 L159.27 123.12 L159.85 122.28 L160.43 121.44 L161.02 120.62 L161.60 119.80 L162.19 119.01 L162.77 118.22 L163.35 117.45 L163.94 116.69 L164.52 115.94 L165.11 115.20 L165.69 114.48 L166.28 113.76 L166.86 113.06 L167.44 112.36 L168.03 111.68 L168.61 111.00 L169.20 110.33 L169.78 109.66 L170.37 109.00 L170.95 108.35 L171.53 107.69 L172.12 107.05 L172.70 106.40 L173.29 105.75 L173.87 105.11 L174.46 104.47 L175.04 103.83 L175.62 103.18 L176.21 102.54 L176.79 101.90 L177.38 101.25 L177.96 100.60 L178.55 99.96 L179.13 99.31 L179.71 98.66 L180.30 98.01 L180.88 97.36 L181.47 96.71 L182.05 96.05 L182.63 95.40 L183.22 94.75 L183.80 94.10 L184.39 93.45 L184.97 92.80 L185.56 92.16 L186.14 91.52 L186.72 90.88 L187.31 90.25 L187.89 89.62 L188.48 89.00 L189.06 88.38 L189.65 87.77 L190.23 87.16 L190.81 86.57 L191.40 85.98 L191.98 85.39 L192.57 84.82 L193.15 84.25 L193.74 83.69 L194.32 83.14 L194.90 82.59 L195.49 82.06 L196.07 81.52 L196.66 81.00 L197.24 80.48 L197.83 79.97 L198.41 79.46 L198.99 78.95 L199.58 78.46 L200.16 77.96 L200.75 77.47 L201.33 76.98 L201.92 76.49 L202.50 76.01 L203.08 75.53 L203.67 75.05 L204.25 74.57 L204.84 74.10 L205.42 73.62 L206.00 73.14 L206.59 72.67 L207.17 72.20 L207.76 71.72 L208.34 71.25 L208.93 70.77 L209.51 70.30 L210.09 69.83 L210.68 69.35 L211.26 68.87 L211.85 68.40 L212.43 67.92 L213.02 67.44 L213.60 66.96 L214.18 66.47 L214.77 65.99 L215.35 65.50 L215.94 65.02 L216.52 64.53 L217.11 64.04 L217.69 63.55 L218.27 63.06 L218.86 62.57 L219.44 62.08 L220.03 61.60 L220.61 61.12 L221.20 60.64 L221.78 60.16 L222.36 59.69 L222.95 59.23 L223.53 58.78 L224.12 58.33 L224.70 57.89 L225.29 57.46 L225.87 57.03 L226.45 56.62 L227.04 56.21 L227.62 55.81 L228.21 55.42 L228.79 55.04 L229.38 54.67 L229.96 54.30 L230.54 53.94 L231.13 53.58 L231.71 53.23 L232.30 52.89 L232.88 52.55 L233.46 52.21 L234.05 51.87 L234.63 51.54 L235.22 51.21 L235.80 50.88 L236.39 50.56 L236.97 50.23 L237.55 49.91 L238.14 49.58 L238.72 49.26 L239.31 48.94 L239.89 48.62 L240.48 48.30 L241.06 47.98 L241.64 47.67 L242.23 47.36 L242.81 47.04 L243.40 46.74 L243.98 46.43 L244.57 46.13 L245.15 45.84 L245.73 45.55 L246.32 45.27 L246.90 44.99 L247.49 44.71 L248.07 44.45 L248.66 44.19 L249.24 43.93 L249.82 43.68 L250.41 43.44 L250.99 43.20 L251.58 42.96 L252.16 42.73 L252.75 42.50 L253.33 42.28 L253.91 42.05 L254.50 41.83 L255.08 41.61 L255.67 41.38 L256.25 41.16 L256.83 40.94 L257.42 40.72 L258.00 40.49 L258.59 40.27 L259.17 40.04 L259.76 39.82 L260.34 39.59 L260.92 39.37 L261.51 39.14 L262.09 38.92 L262.68 38.69 L263.26 38.47 L263.85 38.25 L264.43 38.03 L265.01 37.81 L265.60 37.60 L266.18 37.39 L266.77 37.18 L267.35 36.98 L267.94 36.77 L268.52 36.58 L269.10 36.38 L269.69 36.20 L270.27 36.01 L270.86 35.83 L271.44 35.66 L272.03 35.49 L272.61 35.32 L273.19 35.17 L273.78 35.01 L274.36 34.86 L274.95 34.72 L275.53 34.58 L276.12 34.45 L276.70 34.32 L277.28 34.20 L277.87 34.08 L278.45 33.97 L279.04 33.86 L279.62 33.75 L280.20 33.65 L280.79 33.54 L281.37 33.44 L281.96 33.35 L282.54 33.25 L283.13 33.16 L283.71 33.07 L284.29 32.98 L284.88 32.88 L285.46 32.80 L286.05 32.71 L286.63 32.62 L287.22 32.53 L287.80 32.44 L288.38 32.35 L288.97 32.27 L289.55 32.18 L290.14 32.09 L290.72 32.01 L291.31 31.92 L291.89 31.83 L292.47 31.75 L293.06 31.67 L293.64 31.59 L294.23 31.51 L294.81 31.43 L295.40 31.36 L295.98 31.28 L296.56 31.21 L297.15 31.15 L297.73 31.08 L298.32 31.02 L298.90 30.96 L299.49 30.91 L300.07 30.85 L300.65 30.80 L301.24 30.76 L301.82 30.71 L302.41 30.67 L302.99 30.63 L303.57 30.60 L304.16 30.56 L304.74 30.53 L305.33 30.50 L305.91 30.47 L306.50 30.44 L307.08 30.41 L307.66 30.39 L308.25 30.36 L308.83 30.34 L309.42 30.31 L310.00 30.29 L310.59 30.26 L311.17 30.24 L311.75 30.22 L312.34 30.20 L312.92 30.17 L313.51 30.15 L314.09 30.13 L314.68 30.11 L315.26 30.08 L315.84 30.06 L316.43 30.04 L317.01 30.02 L317.60 29.99 L318.18 29.97 L318.77 29.95 L319.35 29.93 L319.93 29.90 L320.52 29.88 L321.10 29.86 L321.69 29.83 L322.27 29.81 L322.86 29.79 L323.44 29.76 L324.02 29.74 L324.61 29.72 L325.19 29.69 L325.78 29.67 L326.36 29.65 L326.94 29.62 L327.53 29.60 L328.11 29.58 L328.70 29.55 L329.28 29.53 L329.87 29.51 L330.45 29.48 L331.03 29.46 L331.62 29.44 L332.20 29.41 L332.79 29.39 L333.37 29.37 L333.96 29.34 L334.54 29.32 L335.12 29.30 L335.71 29.27 L336.29 29.25 L336.88 29.23 L337.46 29.21 L338.05 29.18 L338.63 29.16 L339.21 29.14 L339.80 29.11 L340.38 29.09 L340.97 29.07 L341.55 29.05 L342.14 29.02 L342.72 29.00 L343.30 28.98 L343.89 28.96 L344.47 28.93 L345.06 28.91 L345.64 28.89 L346.23 28.87" stroke="#b81419" stroke-dasharray="4.6 2"/>
<path d="M55.27 386.01 L55.85 384.86 L56.44 383.68 L57.02 382.46 L57.61 381.18 L58.19 379.82 L58.77 378.36 L59.36 376.80 L59.94 375.11 L60.53 373.31 L61.11 371.37 L61.70 369.29 L62.28 367.08 L62.86 364.75 L63.45 362.31 L64.03 359.78 L64.62 357.17 L65.20 354.49 L65.78 351.76 L66.37 349.00 L66.95 346.21 L67.54 343.39 L68.12 340.55 L68.71 337.67 L69.29 334.75 L69.87 331.80 L70.46 328.82 L71.04 325.80 L71.63 322.77 L72.21 319.73 L72.80 316.70 L73.38 313.69 L73.96 310.72 L74.55 307.79 L75.13 304.92 L75.72 302.11 L76.30 299.37 L76.89 296.69 L77.47 294.08 L78.05 291.54 L78.64 289.06 L79.22 286.65 L79.81 284.28 L80.39 281.97 L80.98 279.70 L81.56 277.46 L82.14 275.25 L82.73 273.06 L83.31 270.88 L83.90 268.71 L84.48 266.55 L85.07 264.40 L85.65 262.25 L86.23 260.12 L86.82 258.00 L87.40 255.90 L87.99 253.84 L88.57 251.80 L89.16 249.81 L89.74 247.85 L90.32 245.94 L90.91 244.05 L91.49 242.19 L92.08 240.35 L92.66 238.52 L93.24 236.69 L93.83 234.84 L94.41 232.98 L95.00 231.11 L95.58 229.21 L96.17 227.30 L96.75 225.38 L97.33 223.46 L97.92 221.53 L98.50 219.61 L99.09 217.71 L99.67 215.82 L100.26 213.95 L100.84 212.11 L101.42 210.28 L102.01 208.48 L102.59 206.70 L103.18 204.93 L103.76 203.17 L104.35 201.42 L104.93 199.68 L105.51 197.94 L106.10 196.20 L106.68 194.46 L107.27 192.71 L107.85 190.95 L108.44 189.19 L109.02 187.41 L109.60 185.63 L110.19 183.84 L110.77 182.04 L111.36 180.25 L111.94 178.45 L112.53 176.66 L113.11 174.88 L113.69 173.11 L114.28 171.36 L114.86 169.62 L115.45 167.91 L116.03 166.22 L116.61 164.55 L117.20 162.92 L117.78 161.32 L118.37 159.75 L118.95 158.21 L119.54 156.71 L120.12 155.25 L120.70 153.82 L121.29 152.43 L121.87 151.08 L122.46 149.77 L123.04 148.49 L123.63 147.26 L124.21 146.05 L124.79 144.89 L125.38 143.76 L125.96 142.66 L126.55 141.60 L127.13 140.56 L127.72 139.56 L128.30 138.58 L128.88 137.63 L129.47 136.70 L130.05 135.80 L130.64 134.91 L131.22 134.05 L131.81 133.20 L132.39 132.37 L132.97 131.55 L133.56 130.75 L134.14 129.95 L134.73 129.17 L135.31 128.40 L135.90 127.64 L136.48 126.89 L137.06 126.14 L137.65 125.41 L138.23 124.69 L138.82 123.98 L139.40 123.29 L139.98 122.60 L140.57 121.93 L141.15 121.27 L141.74 120.62 L142.32 119.98 L142.91 119.36 L143.49 118.74 L144.07 118.13 L144.66 117.53 L145.24 116.94 L145.83 116.35 L146.41 115.76 L147.00 115.18 L147.58 114.59 L148.16 114.00 L148.75 113.41 L149.33 112.82 L149.92 112.21 L150.50 111.60 L151.09 110.98 L151.67 110.35 L152.25 109.71 L152.84 109.06 L153.42 108.40 L154.01 107.74 L154.59 107.07 L155.18 106.40 L155.76 105.73 L156.34 105.07 L156.93 104.41 L157.51 103.77 L158.10 103.13 L158.68 102.52 L159.27 101.91 L159.85 101.33 L160.43 100.76 L161.02 100.20 L161.60 99.66 L162.19 99.13 L162.77 98.60 L163.35 98.08 L163.94 97.57 L164.52 97.05 L165.11 96.54 L165.69 96.02 L166.28 95.50 L166.86 94.98 L167.44 94.45 L168.03 93.92 L168.61 93.39 L169.20 92.85 L169.78 92.31 L170.37 91.77 L170.95 91.23 L171.53 90.68 L172.12 90.13 L172.70 89.58 L173.29 89.04 L173.87 88.49 L174.46 87.94 L175.04 87.39 L175.62 86.84 L176.21 86.28 L176.79 85.73 L177.38 85.18 L177.96 84.63 L178.55 84.09 L179.13 83.54 L179.71 83.00 L180.30 82.46 L180.88 81.93 L181.47 81.40 L182.05 80.89 L182.63 80.38 L183.22 79.89 L183.80 79.42 L184.39 78.96 L184.97 78.52 L185.56 78.11 L186.14 77.71 L186.72 77.34 L187.31 77.00 L187.89 76.67 L188.48 76.37 L189.06 76.10 L189.65 75.84 L190.23 75.60 L190.81 75.38 L191.40 75.17 L191.98 74.97 L192.57 74.79 L193.15 74.61 L193.74 74.45 L194.32 74.28 L194.90 74.12 L195.49 73.97 L196.07 73.82 L196.66 73.67 L197.24 73.52 L197.83 73.37 L198.41 73.23 L198.99 73.09 L199.58 72.95 L200.16 72.80 L200.75 72.66 L201.33 72.51 L201.92 72.36 L202.50 72.21 L203.08 72.04 L203.67 71.87 L204.25 71.69 L204.84 71.50 L205.42 71.30 L206.00 71.08 L206.59 70.85 L207.17 70.60 L207.76 70.33 L208.34 70.05 L208.93 69.75 L209.51 69.43 L210.09 69.10 L210.68 68.75 L211.26 68.38 L211.85 68.00 L212.43 67.61 L213.02 67.20 L213.60 66.78 L214.18 66.35 L214.77 65.91 L215.35 65.45 L215.94 64.99 L216.52 64.52 L217.11 64.03 L217.69 63.54 L218.27 63.04 L218.86 62.53 L219.44 62.02 L220.03 61.50 L220.61 60.98 L221.20 60.46 L221.78 59.94 L222.36 59.42 L222.95 58.91 L223.53 58.40 L224.12 57.90 L224.70 57.41 L225.29 56.92 L225.87 56.45 L226.45 55.98 L227.04 55.53 L227.62 55.09 L228.21 54.66 L228.79 54.24 L229.38 53.83 L229.96 53.44 L230.54 53.06 L231.13 52.69 L231.71 52.34 L232.30 52.01 L232.88 51.70 L233.46 51.40 L234.05 51.11 L234.63 50.85 L235.22 50.60 L235.80 50.37 L236.39 50.16 L236.97 49.96 L237.55 49.77 L238.14 49.59 L238.72 49.43 L239.31 49.27 L239.89 49.12 L240.48 48.98 L241.06 48.85 L241.64 48.72 L242.23 48.60 L242.81 48.48 L243.40 48.37 L243.98 48.27 L244.57 48.16 L245.15 48.07 L245.73 47.97 L246.32 47.88 L246.90 47.79 L247.49 47.71 L248.07 47.63 L248.66 47.55 L249.24 47.48 L249.82 47.40 L250.41 47.33 L250.99 47.25 L251.58 47.18 L252.16 47.10 L252.75 47.01 L253.33 46.91 L253.91 46.81 L254.50 46.69 L255.08 46.56 L255.67 46.42 L256.25 46.27 L256.83 46.10 L257.42 45.92 L258.00 45.73 L258.59 45.53 L259.17 45.33 L259.76 45.12 L260.34 44.91 L260.92 44.69 L261.51 44.48 L262.09 44.28 L262.68 44.08 L263.26 43.89 L263.85 43.72 L264.43 43.55 L265.01 43.39 L265.60 43.25 L266.18 43.11 L266.77 42.99 L267.35 42.87 L267.94 42.76 L268.52 42.65 L269.10 42.56 L269.69 42.46 L270.27 42.37 L270.86 42.28 L271.44 42.20 L272.03 42.12 L272.61 42.04 L273.19 41.96 L273.78 41.88 L274.36 41.81 L274.95 41.74 L275.53 41.67 L276.12 41.60 L276.70 41.53 L277.28 41.47 L277.87 41.40 L278.45 41.34 L279.04 41.28 L279.62 41.22 L280.20 41.16 L280.79 41.10 L281.37 41.04 L281.96 40.98 L282.54 40.93 L283.13 40.87 L283.71 40.81 L284.29 40.76 L284.88 40.70 L285.46 40.64 L286.05 40.59 L286.63 40.53 L287.22 40.48 L287.80 40.42 L288.38 40.36 L288.97 40.31 L289.55 40.25 L290.14 40.20 L290.72 40.14 L291.31 40.09 L291.89 40.03 L292.47 39.98 L293.06 39.92 L293.64 39.87 L294.23 39.81 L294.81 39.76 L295.40 39.70 L295.98 39.65 L296.56 39.59 L297.15 39.54 L297.73 39.48 L298.32 39.43 L298.90 39.37 L299.49 39.32 L300.07 39.26 L300.65 39.20 L301.24 39.14 L301.82 39.09 L302.41 39.03 L302.99 38.97 L303.57 38.91 L304.16 38.85 L304.74 38.79 L305.33 38.74 L305.91 38.68 L306.50 38.62 L307.08 38.57 L307.66 38.52 L308.25 38.47 L308.83 38.42 L309.42 38.38 L310.00 38.34 L310.59 38.30 L311.17 38.27 L311.75 38.24 L312.34 38.22 L312.92 38.20 L313.51 38.19 L314.09 38.19 L314.68 38.19 L315.26 38.20 L315.84 38.22 L316.43 38.25 L317.01 38.28 L317.60 38.32 L318.18 38.37 L318.77 38.42 L319.35 38.48 L319.93 38.55 L320.52 38.62 L321.10 38.69 L321.69 38.77 L322.27 38.85 L322.86 38.92 L323.44 39.00 L324.02 39.08 L324.61 39.16 L325.19 39.24 L325.78 39.31 L326.36 39.39 L326.94 39.46 L327.53 39.53 L328.11 39.59 L328.70 39.66 L329.28 39.72 L329.87 39.78 L330.45 39.84 L331.03 39.90 L331.62 39.96 L332.20 40.02 L332.79 40.08 L333.37 40.13 L333.96 40.19 L334.54 40.25 L335.12 40.30 L335.71 40.36 L336.29 40.42 L336.88 40.47 L337.46 40.53 L338.05 40.59 L338.63 40.64 L339.21 40.70 L339.80 40.75 L340.38 40.80 L340.97 40.86 L341.55 40.91 L342.14 40.97 L342.72 41.02 L343.30 41.07 L343.89 41.12 L344.47 41.17 L345.06 41.22 L345.64 41.27 L346.23 41.32" stroke="#b81419"/>
<path d="M55.27 367.20 L55.85 366.31 L56.44 365.38 L57.02 364.39 L57.61 363.30 L58.19 362.11 L58.77 360.79 L59.36 359.34 L59.94 357.73 L60.53 355.98 L61.11 354.08 L61.70 352.04 L62.28 349.86 L62.86 347.58 L63.45 345.20 L64.03 342.76 L64.62 340.28 L65.20 337.76 L65.78 335.25 L66.37 332.78 L66.95 330.33 L67.54 327.91 L68.12 325.52 L68.71 323.14 L69.29 320.77 L69.87 318.41 L70.46 316.04 L71.04 313.68 L71.63 311.30 L72.21 308.92 L72.80 306.54 L73.38 304.15 L73.96 301.76 L74.55 299.37 L75.13 296.97 L75.72 294.57 L76.30 292.18 L76.89 289.79 L77.47 287.41 L78.05 285.03 L78.64 282.67 L79.22 280.33 L79.81 278.01 L80.39 275.72 L80.98 273.47 L81.56 271.25 L82.14 269.08 L82.73 266.92 L83.31 264.80 L83.90 262.73 L84.48 260.70 L85.07 258.73 L85.65 256.80 L86.23 254.92 L86.82 253.09 L87.40 251.31 L87.99 249.57 L88.57 247.88 L89.16 246.22 L89.74 244.61 L90.32 243.02 L90.91 241.47 L91.49 239.94 L92.08 238.44 L92.66 236.96 L93.24 235.50 L93.83 234.05 L94.41 232.61 L95.00 231.19 L95.58 229.78 L96.17 228.38 L96.75 226.99 L97.33 225.61 L97.92 224.25 L98.50 222.90 L99.09 221.56 L99.67 220.24 L100.26 218.93 L100.84 217.65 L101.42 216.38 L102.01 215.14 L102.59 213.91 L103.18 212.71 L103.76 211.54 L104.35 210.39 L104.93 209.27 L105.51 208.17 L106.10 207.09 L106.68 206.05 L107.27 205.03 L107.85 204.03 L108.44 203.06 L109.02 202.12 L109.60 201.19 L110.19 200.29 L110.77 199.41 L111.36 198.54 L111.94 197.70 L112.53 196.87 L113.11 196.05 L113.69 195.25 L114.28 194.45 L114.86 193.67 L115.45 192.89 L116.03 192.13 L116.61 191.36 L117.20 190.60 L117.78 189.85 L118.37 189.10 L118.95 188.35 L119.54 187.60 L120.12 186.86 L120.70 186.11 L121.29 185.36 L121.87 184.62 L122.46 183.87 L123.04 183.13 L123.63 182.39 L124.21 181.64 L124.79 180.90 L125.38 180.15 L125.96 179.41 L126.55 178.67 L127.13 177.93 L127.72 177.19 L128.30 176.45 L128.88 175.71 L129.47 174.97 L130.05 174.24 L130.64 173.50 L131.22 172.77 L131.81 172.05 L132.39 171.32 L132.97 170.60 L133.56 169.89 L134.14 169.18 L134.73 168.47 L135.31 167.77 L135.90 167.07 L136.48 166.38 L137.06 165.69 L137.65 165.01 L138.23 164.34 L138.82 163.67 L139.40 163.01 L139.98 162.35 L140.57 161.70 L141.15 161.06 L141.74 160.43 L142.32 159.80 L142.91 159.18 L143.49 158.56 L144.07 157.96 L144.66 157.36 L145.24 156.76 L145.83 156.18 L146.41 155.60 L147.00 155.03 L147.58 154.46 L148.16 153.90 L148.75 153.35 L149.33 152.80 L149.92 152.26 L150.50 151.72 L151.09 151.19 L151.67 150.67 L152.25 150.15 L152.84 149.63 L153.42 149.12 L154.01 148.62 L154.59 148.13 L155.18 147.64 L155.76 147.16 L156.34 146.68 L156.93 146.22 L157.51 145.77 L158.10 145.32 L158.68 144.89 L159.27 144.47 L159.85 144.06 L160.43 143.67 L161.02 143.28 L161.60 142.92 L162.19 142.56 L162.77 142.22 L163.35 141.88 L163.94 141.56 L164.52 141.25 L165.11 140.94 L165.69 140.64 L166.28 140.35 L166.86 140.06 L167.44 139.77 L168.03 139.49 L168.61 139.20 L169.20 138.91 L169.78 138.62 L170.37 138.33 L170.95 138.04 L171.53 137.74 L172.12 137.44 L172.70 137.13 L173.29 136.83 L173.87 136.51 L174.46 136.20 L175.04 135.88 L175.62 135.56 L176.21 135.24 L176.79 134.92 L177.38 134.59 L177.96 134.26 L178.55 133.93 L179.13 133.60 L179.71 133.27 L180.30 132.94 L180.88 132.60 L181.47 132.27 L182.05 131.94 L182.63 131.60 L183.22 131.27 L183.80 130.94 L184.39 130.60 L184.97 130.27 L185.56 129.94 L186.14 129.61 L186.72 129.28 L187.31 128.96 L187.89 128.63 L188.48 128.31 L189.06 127.98 L189.65 127.66 L190.23 127.35 L190.81 127.03 L191.40 126.72 L191.98 126.41 L192.57 126.10 L193.15 125.80 L193.74 125.50 L194.32 125.20 L194.90 124.90 L195.49 124.61 L196.07 124.32 L196.66 124.03 L197.24 123.75 L197.83 123.47 L198.41 123.19 L198.99 122.92 L199.58 122.65 L200.16 122.38 L200.75 122.11 L201.33 121.84 L201.92 121.58 L202.50 121.31 L203.08 121.05 L203.67 120.79 L204.25 120.54 L204.84 120.28 L205.42 120.03 L206.00 119.77 L206.59 119.52 L207.17 119.27 L207.76 119.02 L208.34 118.77 L208.93 118.52 L209.51 118.27 L210.09 118.03 L210.68 117.78 L211.26 117.54 L211.85 117.30 L212.43 117.06 L213.02 116.82 L213.60 116.58 L214.18 116.35 L214.77 116.11 L215.35 115.88 L215.94 115.65 L216.52 115.43 L217.11 115.20 L217.69 114.98 L218.27 114.76 L218.86 114.54 L219.44 114.32 L220.03 114.11 L220.61 113.90 L221.20 113.69 L221.78 113.48 L222.36 113.28 L222.95 113.08 L223.53 112.88 L224.12 112.69 L224.70 112.50 L225.29 112.31 L225.87 112.13 L226.45 111.95 L227.04 111.78 L227.62 111.60 L228.21 111.44 L228.79 111.27 L229.38 111.12 L229.96 110.96 L230.54 110.81 L231.13 110.67 L231.71 110.53 L232.30 110.39 L232.88 110.26 L233.46 110.13 L234.05 110.01 L234.63 109.89 L235.22 109.77 L235.80 109.66 L236.39 109.54 L236.97 109.43 L237.55 109.32 L238.14 109.21 L238.72 109.09 L239.31 108.98 L239.89 108.86 L240.48 108.75 L241.06 108.63 L241.64 108.50 L242.23 108.38 L242.81 108.25 L243.40 108.12 L243.98 107.99 L244.57 107.85 L245.15 107.72 L245.73 107.58 L246.32 107.43 L246.90 107.29 L247.49 107.15 L248.07 107.00 L248.66 106.86 L249.24 106.71 L249.82 106.56 L250.41 106.41 L250.99 106.26 L251.58 106.11 L252.16 105.96 L252.75 105.81 L253.33 105.67 L253.91 105.52 L254.50 105.37 L255.08 105.22 L255.67 105.07 L256.25 104.92 L256.83 104.77 L257.42 104.62 L258.00 104.47 L258.59 104.32 L259.17 104.18 L259.76 104.03 L260.34 103.88 L260.92 103.74 L261.51 103.59 L262.09 103.44 L262.68 103.30 L263.26 103.15 L263.85 103.01 L264.43 102.87 L265.01 102.72 L265.60 102.58 L266.18 102.44 L266.77 102.29 L267.35 102.15 L267.94 102.01 L268.52 101.87 L269.10 101.72 L269.69 101.58 L270.27 101.44 L270.86 101.30 L271.44 101.15 L272.03 101.01 L272.61 100.87 L273.19 100.72 L273.78 100.58 L274.36 100.44 L274.95 100.29 L275.53 100.14 L276.12 99.99 L276.70 99.85 L277.28 99.70 L277.87 99.55 L278.45 99.40 L279.04 99.24 L279.62 99.09 L280.20 98.94 L280.79 98.78 L281.37 98.63 L281.96 98.47 L282.54 98.32 L283.13 98.16 L283.71 98.00 L284.29 97.85 L284.88 97.69 L285.46 97.54 L286.05 97.38 L286.63 97.23 L287.22 97.08 L287.80 96.92 L288.38 96.77 L288.97 96.62 L289.55 96.48 L290.14 96.33 L290.72 96.18 L291.31 96.04 L291.89 95.90 L292.47 95.76 L293.06 95.62 L293.64 95.48 L294.23 95.34 L294.81 95.21 L295.40 95.07 L295.98 94.94 L296.56 94.81 L297.15 94.68 L297.73 94.55 L298.32 94.43 L298.90 94.30 L299.49 94.18 L300.07 94.06 L300.65 93.93 L301.24 93.81 L301.82 93.70 L302.41 93.58 L302.99 93.46 L303.57 93.35 L304.16 93.23 L304.74 93.12 L305.33 93.01 L305.91 92.90 L306.50 92.79 L307.08 92.68 L307.66 92.57 L308.25 92.47 L308.83 92.36 L309.42 92.26 L310.00 92.15 L310.59 92.05 L311.17 91.95 L311.75 91.85 L312.34 91.75 L312.92 91.65 L313.51 91.55 L314.09 91.46 L314.68 91.36 L315.26 91.27 L315.84 91.17 L316.43 91.08 L317.01 90.99 L317.60 90.89 L318.18 90.80 L318.77 90.71 L319.35 90.62 L319.93 90.53 L320.52 90.44 L321.10 90.35 L321.69 90.26 L322.27 90.17 L322.86 90.09 L323.44 90.00 L324.02 89.91 L324.61 89.83 L325.19 89.74 L325.78 89.66 L326.36 89.58 L326.94 89.49 L327.53 89.41 L328.11 89.33 L328.70 89.25 L329.28 89.16 L329.87 89.08 L330.45 89.00 L331.03 88.92 L331.62 88.85 L332.20 88.77 L332.79 88.69 L333.37 88.61 L333.96 88.54 L334.54 88.46 L335.12 88.39 L335.71 88.31 L336.29 88.24 L336.88 88.16 L337.46 88.09 L338.05 88.02 L338.63 87.95 L339.21 87.87 L339.80 87.80 L340.38 87.73 L340.97 87.66 L341.55 87.59 L342.14 87.53 L342.72 87.46 L343.30 87.39 L343.89 87.32 L344.47 87.26 L345.06 87.19 L345.64 87.13 L346.23 87.06 L346.81 87.00 L347.39 86.93 L347.98 86.87 L348.56 86.81 L349.15 86.74 L349.73 86.68 L350.31 86.62 L350.90 86.56 L351.48 86.50 L352.07 86.44 L352.65 86.38 L353.24 86.32 L353.82 86.26 L354.40 86.20 L354.99 86.14 L355.57 86.08 L356.16 86.02 L356.74 85.96 L357.33 85.90 L357.91 85.85 L358.49 85.79 L359.08 85.73 L359.66 85.68 L360.25 85.62 L360.83 85.57 L361.42 85.51 L362.00 85.46 L362.58 85.40 L363.17 85.35 L363.75 85.30 L364.34 85.24 L364.92 85.19 L365.51 85.14 L366.09 85.09 L366.67 85.04 L367.26 84.98 L367.84 84.93 L368.43 84.88 L369.01 84.84 L369.60 84.79 L370.18 84.74 L370.76 84.69 L371.35 84.64 L371.93 84.60 L372.52 84.55 L373.10 84.50 L373.68 84.46 L374.27 84.41 L374.85 84.37 L375.44 84.32 L376.02 84.28 L376.61 84.24 L377.19 84.19 L377.77 84.15 L378.36 84.11 L378.94 84.07 L379.53 84.02 L380.11 83.98 L380.70 83.94 L381.28 83.90 L381.86 83.86 L382.45 83.82 L383.03 83.78 L383.62 83.74 L384.20 83.70 L384.79 83.67 L385.37 83.63 L385.95 83.59 L386.54 83.55 L387.12 83.52 L387.71 83.48 L388.29 83.44 L388.88 83.41 L389.46 83.37 L390.04 83.34 L390.63 83.30 L391.21 83.27 L391.80 83.24 L392.38 83.20 L392.97 83.17 L393.55 83.14 L394.13 83.10 L394.72 83.07 L395.30 83.04 L395.89 83.01 L396.47 82.98 L397.05 82.95 L397.64 82.92 L398.22 82.88 L398.81 82.86 L399.39 82.83 L399.98 82.80 L400.56 82.77 L401.14 82.74 L401.73 82.71 L402.31 82.69 L402.90 82.66 L403.48 82.63 L404.07 82.61 L404.65 82.58" stroke="#00ecf2" stroke-dasharray="4.6 2"/>
<path d="M55.27 248.78 L55.85 247.69 L56.44 246.55 L57.02 245.31 L57.61 243.94 L58.19 242.41 L58.77 240.71 L59.36 238.82 L59.94 236.76 L60.53 234.53 L61.11 232.15 L61.70 229.64 L62.28 227.01 L62.86 224.29 L63.45 221.50 L64.03 218.65 L64.62 215.77 L65.20 212.87 L65.78 209.97 L66.37 207.07 L66.95 204.18 L67.54 201.30 L68.12 198.42 L68.71 195.53 L69.29 192.62 L69.87 189.69 L70.46 186.73 L71.04 183.74 L71.63 180.73 L72.21 177.70 L72.80 174.67 L73.38 171.64 L73.96 168.63 L74.55 165.64 L75.13 162.70 L75.72 159.80 L76.30 156.97 L76.89 154.21 L77.47 151.54 L78.05 148.96 L78.64 146.48 L79.22 144.12 L79.81 141.86 L80.39 139.71 L80.98 137.66 L81.56 135.71 L82.14 133.85 L82.73 132.06 L83.31 130.33 L83.90 128.67 L84.48 127.07 L85.07 125.51 L85.65 123.99 L86.23 122.51 L86.82 121.06 L87.40 119.65 L87.99 118.27 L88.57 116.93 L89.16 115.61 L89.74 114.34 L90.32 113.10 L90.91 111.90 L91.49 110.73 L92.08 109.60 L92.66 108.49 L93.24 107.42 L93.83 106.36 L94.41 105.33 L95.00 104.31 L95.58 103.30 L96.17 102.30 L96.75 101.30 L97.33 100.32 L97.92 99.34 L98.50 98.36 L99.09 97.40 L99.67 96.44 L100.26 95.49 L100.84 94.56 L101.42 93.63 L102.01 92.71 L102.59 91.80 L103.18 90.90 L103.76 90.01 L104.35 89.15 L104.93 88.30 L105.51 87.47 L106.10 86.67 L106.68 85.91 L107.27 85.18 L107.85 84.48 L108.44 83.81 L109.02 83.18 L109.60 82.58 L110.19 82.01 L110.77 81.45 L111.36 80.92 L111.94 80.41 L112.53 79.90 L113.11 79.41 L113.69 78.93 L114.28 78.45 L114.86 77.98 L115.45 77.52 L116.03 77.07 L116.61 76.63 L117.20 76.19 L117.78 75.76 L118.37 75.34 L118.95 74.94 L119.54 74.54 L120.12 74.15 L120.70 73.78 L121.29 73.41 L121.87 73.06 L122.46 72.72 L123.04 72.40 L123.63 72.09 L124.21 71.79 L124.79 71.50 L125.38 71.23 L125.96 70.97 L126.55 70.73 L127.13 70.49 L127.72 70.27 L128.30 70.06 L128.88 69.86 L129.47 69.67 L130.05 69.50 L130.64 69.33 L131.22 69.18 L131.81 69.03 L132.39 68.90 L132.97 68.78 L133.56 68.67 L134.14 68.56 L134.73 68.47 L135.31 68.38 L135.90 68.30 L136.48 68.23 L137.06 68.16 L137.65 68.09 L138.23 68.03 L138.82 67.97 L139.40 67.91 L139.98 67.85 L140.57 67.79 L141.15 67.74 L141.74 67.69 L142.32 67.63 L142.91 67.58 L143.49 67.53 L144.07 67.49 L144.66 67.44 L145.24 67.39 L145.83 67.35 L146.41 67.30 L147.00 67.26 L147.58 67.21 L148.16 67.17 L148.75 67.13 L149.33 67.08 L149.92 67.04 L150.50 67.00 L151.09 66.96 L151.67 66.92 L152.25 66.88 L152.84 66.83 L153.42 66.79 L154.01 66.75 L154.59 66.71 L155.18 66.66 L155.76 66.62 L156.34 66.58 L156.93 66.53 L157.51 66.49 L158.10 66.44 L158.68 66.39 L159.27 66.34 L159.85 66.29 L160.43 66.23 L161.02 66.18 L161.60 66.12 L162.19 66.05 L162.77 65.99 L163.35 65.92 L163.94 65.85 L164.52 65.78 L165.11 65.71 L165.69 65.63 L166.28 65.54 L166.86 65.46 L167.44 65.37 L168.03 65.28 L168.61 65.18 L169.20 65.08 L169.78 64.98 L170.37 64.87 L170.95 64.76 L171.53 64.65 L172.12 64.54 L172.70 64.42 L173.29 64.31 L173.87 64.19 L174.46 64.07 L175.04 63.96 L175.62 63.84 L176.21 63.73 L176.79 63.62 L177.38 63.51 L177.96 63.41 L178.55 63.31 L179.13 63.21 L179.71 63.11 L180.30 63.02 L180.88 62.94 L181.47 62.86 L182.05 62.78 L182.63 62.71 L183.22 62.65 L183.80 62.59 L184.39 62.53 L184.97 62.49 L185.56 62.44 L186.14 62.40 L186.72 62.37 L187.31 62.34 L187.89 62.32 L188.48 62.29 L189.06 62.27 L189.65 62.25 L190.23 62.24 L190.81 62.22 L191.40 62.21 L191.98 62.20 L192.57 62.19 L193.15 62.18 L193.74 62.17 L194.32 62.16 L194.90 62.15 L195.49 62.14 L196.07 62.13 L196.66 62.12 L197.24 62.11 L197.83 62.10 L198.41 62.09 L198.99 62.09 L199.58 62.08 L200.16 62.07 L200.75 62.06 L201.33 62.06 L201.92 62.05 L202.50 62.04 L203.08 62.04 L203.67 62.03 L204.25 62.02 L204.84 62.01 L205.42 62.01 L206.00 62.00 L206.59 61.99 L207.17 61.99 L207.76 61.98 L208.34 61.97 L208.93 61.97 L209.51 61.96 L210.09 61.95 L210.68 61.95 L211.26 61.94 L211.85 61.94 L212.43 61.93 L213.02 61.93 L213.60 61.92 L214.18 61.92 L214.77 61.91 L215.35 61.91 L215.94 61.91 L216.52 61.91 L217.11 61.91 L217.69 61.91 L218.27 61.91 L218.86 61.91 L219.44 61.91 L220.03 61.91 L220.61 61.92 L221.20 61.92 L221.78 61.93 L222.36 61.94 L222.95 61.94 L223.53 61.95 L224.12 61.96 L224.70 61.96 L225.29 61.97 L225.87 61.98 L226.45 61.98 L227.04 61.99 L227.62 61.99 L228.21 62.00 L228.79 62.00 L229.38 62.00 L229.96 62.00 L230.54 62.01 L231.13 62.01 L231.71 62.01 L232.30 62.01 L232.88 62.01 L233.46 62.01 L234.05 62.01 L234.63 62.00 L235.22 62.00 L235.80 62.00 L236.39 62.00 L236.97 61.99 L237.55 61.99 L238.14 61.99 L238.72 61.98 L239.31 61.98 L239.89 61.98 L240.48 61.97 L241.06 61.97 L241.64 61.96 L242.23 61.96 L242.81 61.95 L243.40 61.94 L243.98 61.94 L244.57 61.93 L245.15 61.93 L245.73 61.92 L246.32 61.91 L246.90 61.91 L247.49 61.90 L248.07 61.89 L248.66 61.89 L249.24 61.88 L249.82 61.87 L250.41 61.86 L250.99 61.86 L251.58 61.85 L252.16 61.84 L252.75 61.83 L253.33 61.82 L253.91 61.82 L254.50 61.81 L255.08 61.80 L255.67 61.79 L256.25 61.78 L256.83 61.78 L257.42 61.77 L258.00 61.76 L258.59 61.75 L259.17 61.75 L259.76 61.74 L260.34 61.73 L260.92 61.72 L261.51 61.71 L262.09 61.71 L262.68 61.70 L263.26 61.69 L263.85 61.69 L264.43 61.68 L265.01 61.67 L265.60 61.66 L266.18 61.66 L266.77 61.65 L267.35 61.65 L267.94 61.64 L268.52 61.63 L269.10 61.63 L269.69 61.62 L270.27 61.62 L270.86 61.61 L271.44 61.61 L272.03 61.60 L272.61 61.60 L273.19 61.59 L273.78 61.59 L274.36 61.59 L274.95 61.58 L275.53 61.58 L276.12 61.58 L276.70 61.58 L277.28 61.57 L277.87 61.57 L278.45 61.57 L279.04 61.57 L279.62 61.57 L280.20 61.57 L280.79 61.57 L281.37 61.57 L281.96 61.57 L282.54 61.57 L283.13 61.58 L283.71 61.58 L284.29 61.58 L284.88 61.58 L285.46 61.59 L286.05 61.59 L286.63 61.60 L287.22 61.60 L287.80 61.61 L288.38 61.61 L288.97 61.62 L289.55 61.62 L290.14 61.63 L290.72 61.64 L291.31 61.65 L291.89 61.65 L292.47 61.66 L293.06 61.67 L293.64 61.68 L294.23 61.69 L294.81 61.70 L295.40 61.71 L295.98 61.72 L296.56 61.73 L297.15 61.74 L297.73 61.75 L298.32 61.76 L298.90 61.78 L299.49 61.79 L300.07 61.80 L300.65 61.81 L301.24 61.82 L301.82 61.84 L302.41 61.85 L302.99 61.86 L303.57 61.87 L304.16 61.89 L304.74 61.90 L305.33 61.91 L305.91 61.93 L306.50 61.94 L307.08 61.95 L307.66 61.97 L308.25 61.98 L308.83 62.00 L309.42 62.01 L310.00 62.02 L310.59 62.04 L311.17 62.05 L311.75 62.06 L312.34 62.08 L312.92 62.09 L313.51 62.11 L314.09 62.12 L314.68 62.13 L315.26 62.15 L315.84 62.16 L316.43 62.18 L317.01 62.19 L317.60 62.21 L318.18 62.22 L318.77 62.24 L319.35 62.26 L319.93 62.27 L320.52 62.29 L321.10 62.31 L321.69 62.33 L322.27 62.35 L322.86 62.37 L323.44 62.39 L324.02 62.41 L324.61 62.43 L325.19 62.45 L325.78 62.48 L326.36 62.50 L326.94 62.52 L327.53 62.54 L328.11 62.57 L328.70 62.59 L329.28 62.61 L329.87 62.63 L330.45 62.66 L331.03 62.68 L331.62 62.70 L332.20 62.72 L332.79 62.74 L333.37 62.77 L333.96 62.79 L334.54 62.81 L335.12 62.83 L335.71 62.85 L336.29 62.87 L336.88 62.88 L337.46 62.90 L338.05 62.92 L338.63 62.94 L339.21 62.95 L339.80 62.97 L340.38 62.98 L340.97 62.99 L341.55 63.00 L342.14 63.01 L342.72 63.02 L343.30 63.03 L343.89 63.04 L344.47 63.04 L345.06 63.05 L345.64 63.05 L346.23 63.05 L346.81 63.05 L347.39 63.04 L347.98 63.04 L348.56 63.03 L349.15 63.02 L349.73 63.01 L350.31 63.00 L350.90 62.99 L351.48 62.97 L352.07 62.96 L352.65 62.94 L353.24 62.92 L353.82 62.90 L354.40 62.88 L354.99 62.85 L355.57 62.83 L356.16 62.80 L356.74 62.77 L357.33 62.75 L357.91 62.72 L358.49 62.69 L359.08 62.66 L359.66 62.63 L360.25 62.59 L360.83 62.56 L361.42 62.53 L362.00 62.50 L362.58 62.47 L363.17 62.43 L363.75 62.40 L364.34 62.37 L364.92 62.33 L365.51 62.30 L366.09 62.27 L366.67 62.24 L367.26 62.21 L367.84 62.17 L368.43 62.14 L369.01 62.11 L369.60 62.09 L370.18 62.06 L370.76 62.03 L371.35 62.00 L371.93 61.98 L372.52 61.95 L373.10 61.93 L373.68 61.91 L374.27 61.89 L374.85 61.86 L375.44 61.84 L376.02 61.82 L376.61 61.81 L377.19 61.79 L377.77 61.77 L378.36 61.75 L378.94 61.73 L379.53 61.72 L380.11 61.70 L380.70 61.68 L381.28 61.66 L381.86 61.65 L382.45 61.63 L383.03 61.61 L383.62 61.60 L384.20 61.58 L384.79 61.56 L385.37 61.55 L385.95 61.53 L386.54 61.51 L387.12 61.50 L387.71 61.48 L388.29 61.46 L388.88 61.45 L389.46 61.43 L390.04 61.42 L390.63 61.40 L391.21 61.38 L391.80 61.37 L392.38 61.35 L392.97 61.34 L393.55 61.32 L394.13 61.31 L394.72 61.29 L395.30 61.28 L395.89 61.26 L396.47 61.25 L397.05 61.23 L397.64 61.22 L398.22 61.21 L398.81 61.19 L399.39 61.18 L399.98 61.17 L400.56 61.15 L401.14 61.14 L401.73 61.13 L402.31 61.12 L402.90 61.11 L403.48 61.09 L404.07 61.08 L404.65 61.07" stroke="#00ecf2"/>
</g>
<rect x="318.8" y="261.8" width="221.6" height="237.2" rx="1.5" fill="#e9e9e9" fill-opacity="0.9" stroke="#d4d4d4" stroke-opacity="0.55" stroke-width="0.6"/>
<g class="c">
<path d="M321.8 269.80 L342.5 269.80" stroke="#ff2a6c" stroke-dasharray="4.6 2"/>
<path d="M321.8 284.56 L342.5 284.56" stroke="#ff2a6c"/>
<path d="M321.8 299.31 L342.5 299.31" stroke="#d01fb4" stroke-dasharray="4.6 2"/>
<path d="M321.8 314.06 L342.5 314.06" stroke="#d01fb4"/>
<path d="M321.8 328.82 L342.5 328.82" stroke="#1235b8" stroke-dasharray="4.6 2"/>
<path d="M321.8 343.58 L342.5 343.58" stroke="#1235b8"/>
<path d="M321.8 358.33 L342.5 358.33" stroke="#ff7f50" stroke-dasharray="4.6 2"/>
<path d="M321.8 373.09 L342.5 373.09" stroke="#ff7f50"/>
<path d="M321.8 387.84 L342.5 387.84" stroke="#fff600" stroke-dasharray="4.6 2"/>
<path d="M321.8 402.60 L342.5 402.60" stroke="#fff600"/>
<path d="M321.8 417.35 L342.5 417.35" stroke="#38c463" stroke-dasharray="4.6 2"/>
<path d="M321.8 432.11 L342.5 432.11" stroke="#38c463"/>
<path d="M321.8 446.86 L342.5 446.86" stroke="#b81419" stroke-dasharray="4.6 2"/>
<path d="M321.8 461.62 L342.5 461.62" stroke="#b81419"/>
<path d="M321.8 476.37 L342.5 476.37" stroke="#00ecf2" stroke-dasharray="4.6 2"/>
<path d="M321.8 491.12 L342.5 491.12" stroke="#00ecf2"/>
</g>
<g class="leg">
<text x="349.9" y="273.20" textLength="147.1" lengthAdjust="spacing">PointNet: Train Instance Accuracy</text>
<text x="349.9" y="287.95" textLength="141.8" lengthAdjust="spacing">PointNet: Test Instance Accuracy</text>
<text x="349.9" y="302.71" textLength="185.4" lengthAdjust="spacing">PointNet++(MSG): Train Instance Accuracy</text>
<text x="349.9" y="317.46" textLength="180.0" lengthAdjust="spacing">PointNet++(MSG): Test Instance Accuracy</text>
<text x="349.9" y="332.22" textLength="181.4" lengthAdjust="spacing">PointNet++(SSG): Train Instance Accuracy</text>
<text x="349.9" y="346.98" textLength="176.0" lengthAdjust="spacing">PointNet++(SSG): Test Instance Accuracy</text>
<text x="349.9" y="361.73" textLength="152.1" lengthAdjust="spacing">PointMLP: Train Instance Accuracy</text>
<text x="349.9" y="376.49" textLength="146.9" lengthAdjust="spacing">PointMLP: Test Instance Accuracy</text>
<text x="349.9" y="391.24" textLength="173.8" lengthAdjust="spacing">PointMLP-elite: Train Instance Accuracy</text>
<text x="349.9" y="406.00" textLength="168.4" lengthAdjust="spacing">PointMLP-elite: Test Instance Accuracy</text>
<text x="349.9" y="420.75" textLength="154.5" lengthAdjust="spacing">PointConv: Train Instance Accuracy</text>
<text x="349.9" y="435.50" textLength="149.1" lengthAdjust="spacing">PointConv: Test Instance Accuracy</text>
<text x="349.9" y="450.26" textLength="146.2" lengthAdjust="spacing">DGCNN: Train Instance Accuracy</text>
<text x="349.9" y="465.01" textLength="141.0" lengthAdjust="spacing">DGCNN: Test Instance Accuracy</text>
<text x="349.9" y="479.77" textLength="126.5" lengthAdjust="spacing">PCT: Train Instance Accuracy</text>
<text x="349.9" y="494.52" textLength="121.3" lengthAdjust="spacing">PCT: Test Instance Accuracy</text>
</g>
</svg></body></html>
